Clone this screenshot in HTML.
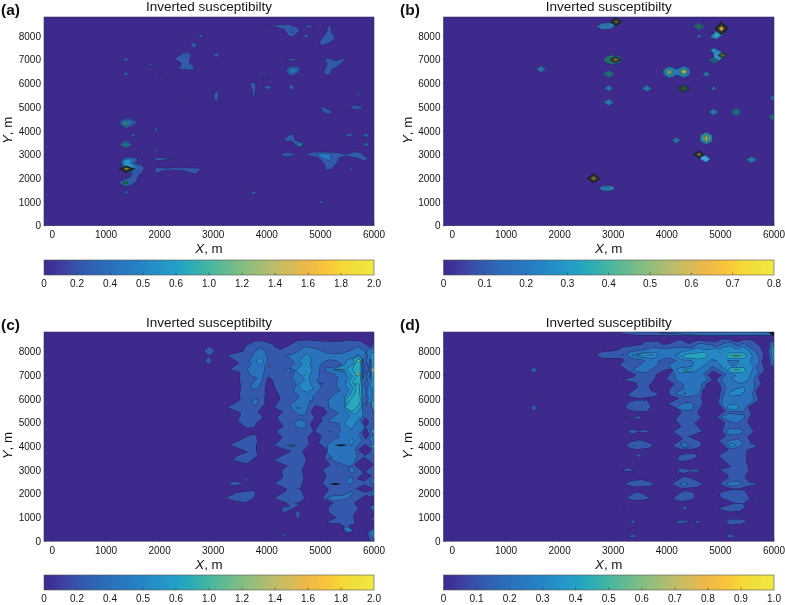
<!DOCTYPE html><html><head><meta charset="utf-8"><title>Inverted susceptibilty</title>
<style>html,body{margin:0;padding:0;background:#fff}body{width:785px;height:605px;overflow:hidden;position:relative}svg{position:absolute;left:0;top:0;display:block}text{font-family:"Liberation Sans",Arial,Helvetica,sans-serif;fill:#141414}.t{font-size:10px}.ti{font-size:13.5px}.ax{font-size:13.3px}.lb{font-size:15.5px;font-weight:bold;fill:#111}</style></head><body>
<svg width="785" height="605" viewBox="0 0 785 605">
<defs><linearGradient id="pg" x1="0" y1="0" x2="1" y2="0">
<stop offset="0.0000" stop-color="#3e298c"/>
<stop offset="0.0159" stop-color="#3e2f92"/>
<stop offset="0.0317" stop-color="#3e3599"/>
<stop offset="0.0476" stop-color="#3e3b9f"/>
<stop offset="0.0635" stop-color="#3c42a2"/>
<stop offset="0.0794" stop-color="#394aa5"/>
<stop offset="0.0952" stop-color="#3751a8"/>
<stop offset="0.1111" stop-color="#3457ab"/>
<stop offset="0.1270" stop-color="#325cae"/>
<stop offset="0.1429" stop-color="#2f61b2"/>
<stop offset="0.1587" stop-color="#2d65b4"/>
<stop offset="0.1746" stop-color="#2c69b7"/>
<stop offset="0.1905" stop-color="#2a6eb9"/>
<stop offset="0.2063" stop-color="#2971bc"/>
<stop offset="0.2222" stop-color="#2875bd"/>
<stop offset="0.2381" stop-color="#2778bf"/>
<stop offset="0.2540" stop-color="#277bc0"/>
<stop offset="0.2698" stop-color="#267fc2"/>
<stop offset="0.2857" stop-color="#2682c4"/>
<stop offset="0.3016" stop-color="#2585c5"/>
<stop offset="0.3175" stop-color="#258ac5"/>
<stop offset="0.3333" stop-color="#248ec5"/>
<stop offset="0.3492" stop-color="#2492c5"/>
<stop offset="0.3651" stop-color="#2497c6"/>
<stop offset="0.3810" stop-color="#239bc6"/>
<stop offset="0.3968" stop-color="#239fc6"/>
<stop offset="0.4127" stop-color="#26a3c1"/>
<stop offset="0.4286" stop-color="#29a7bc"/>
<stop offset="0.4444" stop-color="#2cabb6"/>
<stop offset="0.4603" stop-color="#32aeb0"/>
<stop offset="0.4762" stop-color="#3ab1aa"/>
<stop offset="0.4921" stop-color="#42b4a3"/>
<stop offset="0.5079" stop-color="#4bb79e"/>
<stop offset="0.5238" stop-color="#54b899"/>
<stop offset="0.5397" stop-color="#5eb994"/>
<stop offset="0.5556" stop-color="#67ba8f"/>
<stop offset="0.5714" stop-color="#71bc8b"/>
<stop offset="0.5873" stop-color="#7abd86"/>
<stop offset="0.6032" stop-color="#84be81"/>
<stop offset="0.6190" stop-color="#8dbe7d"/>
<stop offset="0.6349" stop-color="#97bd79"/>
<stop offset="0.6508" stop-color="#a0bd75"/>
<stop offset="0.6667" stop-color="#aabd71"/>
<stop offset="0.6825" stop-color="#b4bc6d"/>
<stop offset="0.6984" stop-color="#bdbc69"/>
<stop offset="0.7143" stop-color="#c5bc64"/>
<stop offset="0.7302" stop-color="#cdbb5e"/>
<stop offset="0.7460" stop-color="#d5bb59"/>
<stop offset="0.7619" stop-color="#ddba53"/>
<stop offset="0.7778" stop-color="#e5ba4e"/>
<stop offset="0.7937" stop-color="#edb948"/>
<stop offset="0.8095" stop-color="#f2bb44"/>
<stop offset="0.8254" stop-color="#f5be41"/>
<stop offset="0.8413" stop-color="#f8c13e"/>
<stop offset="0.8571" stop-color="#f9c63b"/>
<stop offset="0.8730" stop-color="#f8cc3a"/>
<stop offset="0.8889" stop-color="#f6d338"/>
<stop offset="0.9048" stop-color="#f5d837"/>
<stop offset="0.9206" stop-color="#f4db39"/>
<stop offset="0.9365" stop-color="#f3dd3b"/>
<stop offset="0.9524" stop-color="#f2e03c"/>
<stop offset="0.9683" stop-color="#f2e33e"/>
<stop offset="0.9841" stop-color="#f1e53f"/>
<stop offset="1.0000" stop-color="#f0e841"/>
</linearGradient></defs>
<g id="panel-a">
<rect x="44" y="17" width="330" height="208.7" fill="#3e298c"/>
<clipPath id="cla"><rect x="44" y="17" width="330" height="208.7"/></clipPath>
<g clip-path="url(#cla)">
<path d="M123.2 59.5 L126.0 57.4 L128.7 59.5 L126.0 61.6Z" fill="#3359ad" stroke="#1c1c3c" stroke-width="0.35" stroke-linejoin="round"/>
<path d="M123.2 73.7 L126.0 71.6 L128.7 73.7 L126.0 75.8Z" fill="#3359ad" stroke="#1c1c3c" stroke-width="0.35" stroke-linejoin="round"/>
<path d="M146.6 64.5 L150.1 63.4 L153.7 64.5 L150.1 65.5Z" fill="#3359ad" stroke="#1c1c3c" stroke-width="0.35" stroke-linejoin="round"/>
<path d="M158.5 73.7 L161.7 72.7 L164.8 73.7 L161.7 74.8Z" fill="#2f3f9a" stroke="#1c1c3c" stroke-width="0.35" stroke-linejoin="round"/>
<circle cx="163.4" cy="26.5" r="0.53" fill="#2a2a66" opacity="0.8"/>
<circle cx="170.7" cy="45.4" r="0.53" fill="#2a2a66" opacity="0.8"/>
<path d="M184.2 35.9 L185.9 34.9 L187.5 35.9 L185.9 37.0Z" fill="#3a4aa5" stroke="#1c1c3c" stroke-width="0.35" stroke-linejoin="round"/>
<path d="M197.8 35.9 L200.6 34.0 L203.3 35.9 L200.6 37.8Z" fill="#3359ad" stroke="#1c1c3c" stroke-width="0.35" stroke-linejoin="round"/>
<path d="M190.3 45.0 L193.6 42.0 L197.0 45.0 L193.6 47.9Z" fill="#3359ad" stroke="#1c1c3c" stroke-width="0.35" stroke-linejoin="round"/>
<path d="M174.3 59.0 L182.7 53.6 L186.9 51.7 L191.1 54.8 L189.0 62.2 L194.9 68.1 L191.1 70.0 L178.5 69.1 L181.7 63.7 L178.5 61.1Z" fill="#3359ad" stroke="#1c1c3c" stroke-width="0.35" stroke-linejoin="round"/>
<path d="M185.0 55.3 L186.3 53.4 L187.5 55.3 L186.3 57.1Z" fill="#2778bf" stroke="#1c1c3c" stroke-width="0.35" stroke-linejoin="round"/>
<path d="M184.2 97.3 L185.9 95.8 L187.5 97.3 L185.9 98.8Z" fill="#34489f" stroke="#1c1c3c" stroke-width="0.35" stroke-linejoin="round"/>
<circle cx="223.7" cy="21.2" r="0.53" fill="#2a2a66" opacity="0.8"/>
<path d="M296.9 17.8 L299.0 16.6 L301.1 17.8 L299.0 19.1Z" fill="#3359ad" stroke="#1c1c3c" stroke-width="0.35" stroke-linejoin="round"/>
<path d="M268.3 26.2 L278.4 25.0 L288.9 24.6 L297.3 27.5 L299.4 31.3 L292.0 37.0 L287.8 34.9 L284.7 29.6 L276.3 27.1Z" fill="#3359ad" stroke="#1c1c3c" stroke-width="0.35" stroke-linejoin="round"/>
<path d="M291.6 29.2 L292.9 32.6 L290.3 32.6Z" fill="#2778bf" stroke="#1c1c3c" stroke-width="0.35" stroke-linejoin="round"/>
<path d="M304.0 26.2 L308.8 25.0 L314.1 26.2 L308.8 27.9Z" fill="#3359ad" stroke="#1c1c3c" stroke-width="0.35" stroke-linejoin="round"/>
<path d="M303.2 35.9 L306.3 33.8 L309.5 35.9 L306.3 38.0Z" fill="#3359ad" stroke="#1c1c3c" stroke-width="0.35" stroke-linejoin="round"/>
<path d="M327.7 25.8 L330.9 25.8 L331.3 32.8 L335.1 37.0 L330.9 42.2 L320.4 45.4 L320.0 41.2 L324.6 34.9 L327.1 31.7Z" fill="#3359ad" stroke="#1c1c3c" stroke-width="0.35" stroke-linejoin="round"/>
<circle cx="253.6" cy="35.5" r="0.53" fill="#2a2a66" opacity="0.8"/>
<path d="M213.2 55.0 L216.4 52.7 L219.5 55.0 L216.4 57.4Z" fill="#3359ad" stroke="#1c1c3c" stroke-width="0.35" stroke-linejoin="round"/>
<circle cx="253.8" cy="54.8" r="0.53" fill="#2a2a66" opacity="0.8"/>
<circle cx="284.0" cy="50.0" r="0.53" fill="#2a2a66" opacity="0.8"/>
<path d="M285.1 59.7 L291.6 58.4 L298.5 59.7 L291.6 61.1Z" fill="#3359ad" stroke="#1c1c3c" stroke-width="0.35" stroke-linejoin="round"/>
<path d="M286.3 69.5 L289.9 66.4 L296.2 65.8 L300.8 68.5 L297.3 73.3 L292.0 76.3 L287.8 73.7Z" fill="#3359ad" stroke="#1c1c3c" stroke-width="0.35" stroke-linejoin="round"/>
<path d="M288.9 69.5 L292.6 67.2 L298.1 68.7 L293.1 74.6 L289.9 72.9Z" fill="#2778bf" stroke="#1c1c3c" stroke-width="0.35" stroke-linejoin="round"/>
<path d="M291.0 69.5 L294.8 68.9 L292.6 73.3Z" fill="#2495c6" stroke="#1c1c3c" stroke-width="0.35" stroke-linejoin="round"/>
<path d="M324.6 59.0 L329.8 58.6 L335.1 61.1 L343.5 58.4 L344.6 60.1 L337.2 66.4 L332.0 69.5 L329.8 74.2 L324.6 74.8 L324.2 70.6 L327.7 64.3Z" fill="#3359ad" stroke="#1c1c3c" stroke-width="0.35" stroke-linejoin="round"/>
<circle cx="357.6" cy="55.0" r="0.53" fill="#2a2a66" opacity="0.8"/>
<circle cx="351.3" cy="64.5" r="0.53" fill="#2a2a66" opacity="0.8"/>
<circle cx="261.5" cy="70.0" r="0.53" fill="#2a2a66" opacity="0.8"/>
<path d="M262.0 78.6 L266.2 77.7 L270.4 78.8 L266.2 79.8Z" fill="#2f3f9a" stroke="#1c1c3c" stroke-width="0.35" stroke-linejoin="round"/>
<path d="M248.9 83.2 L255.2 82.6 L255.7 87.4 L254.2 96.9 L252.7 96.9 L252.1 88.5Z" fill="#3359ad" stroke="#1c1c3c" stroke-width="0.35" stroke-linejoin="round"/>
<path d="M263.2 87.4 L267.8 85.3 L272.5 87.4 L267.8 89.5Z" fill="#3359ad" stroke="#1c1c3c" stroke-width="0.35" stroke-linejoin="round"/>
<path d="M291.4 83.2 L294.3 87.4 L291.4 89.9 L288.4 87.4Z" fill="#3359ad" stroke="#1c1c3c" stroke-width="0.35" stroke-linejoin="round"/>
<circle cx="231.5" cy="82.8" r="0.53" fill="#2a2a66" opacity="0.8"/>
<path d="M216.4 90.6 L218.5 93.7 L217.4 100.0 L215.3 101.1 L213.6 95.8Z" fill="#3359ad" stroke="#1c1c3c" stroke-width="0.35" stroke-linejoin="round"/>
<path d="M219.1 102.3 L221.6 101.7 L224.6 102.5 L221.6 103.2Z" fill="#2f3f9a" stroke="#1c1c3c" stroke-width="0.35" stroke-linejoin="round"/>
<circle cx="321.4" cy="88.0" r="0.53" fill="#2a2a66" opacity="0.8"/>
<path d="M358.6 91.6 L359.9 94.3 L358.6 97.3 L357.6 94.3Z" fill="#3359ad" stroke="#1c1c3c" stroke-width="0.35" stroke-linejoin="round"/>
<path d="M320.4 106.3 L324.6 107.8 L330.9 110.5 L332.0 113.3 L326.7 113.7 L322.5 111.2Z" fill="#3359ad" stroke="#1c1c3c" stroke-width="0.35" stroke-linejoin="round"/>
<path d="M350.2 106.3 L357.2 104.9 L362.4 106.3 L361.4 109.1 L356.1 109.5 L350.9 108.4Z" fill="#3359ad" stroke="#1c1c3c" stroke-width="0.35" stroke-linejoin="round"/>
<path d="M356.5 107.0 L358.6 106.1 L360.7 107.0 L358.6 107.8Z" fill="#2778bf" stroke="#1c1c3c" stroke-width="0.35" stroke-linejoin="round"/>
<circle cx="291.6" cy="111.6" r="0.53" fill="#2a2a66" opacity="0.8"/>
<circle cx="231.5" cy="115.8" r="0.53" fill="#2a2a66" opacity="0.8"/>
<circle cx="344.6" cy="111.6" r="0.53" fill="#2a2a66" opacity="0.8"/>
<path d="M119.2 123.2 L122.3 119.5 L128.6 118.1 L135.0 120.5 L136.8 122.3 L132.3 125.9 L126.8 128.6 L122.3 126.8Z" fill="#3359ad" stroke="#1c1c3c" stroke-width="0.35" stroke-linejoin="round"/>
<path d="M121.0 123.2 L123.2 120.5 L128.6 119.5 L133.2 121.4 L130.5 125.0 L126.8 127.2 L123.2 125.9Z" fill="#2778bf" stroke="#1c1c3c" stroke-width="0.35" stroke-linejoin="round"/>
<path d="M122.8 123.2 L124.6 121.4 L128.6 121.0 L130.8 122.3 L128.6 124.6 L126.5 125.9 L124.3 125.0Z" fill="#2a8aa8" stroke="#1c1c3c" stroke-width="0.35" stroke-linejoin="round"/>
<path d="M124.6 123.2 L125.9 122.1 L128.3 122.3 L127.5 124.3 L126.1 124.8Z" fill="#3a9a88" stroke="#1c1c3c" stroke-width="0.35" stroke-linejoin="round"/>
<path d="M125.7 123.2 L126.8 122.6 L127.5 123.5 L126.5 124.3Z" fill="#b8c050" stroke="#1c1c3c" stroke-width="0.35" stroke-linejoin="round"/>
<path d="M130.5 135.0 L133.2 133.2 L135.9 135.0 L133.2 136.8Z" fill="#3359ad" stroke="#1c1c3c" stroke-width="0.35" stroke-linejoin="round"/>
<path d="M119.5 144.5 L125.9 140.3 L132.3 144.5 L125.9 148.6Z" fill="#2f6fb0" stroke="#1c1c3c" stroke-width="0.35" stroke-linejoin="round"/>
<path d="M121.7 144.5 L125.9 141.7 L130.2 144.5 L125.9 147.2Z" fill="#2a7a98" stroke="#1c1c3c" stroke-width="0.35" stroke-linejoin="round"/>
<path d="M123.8 144.5 L125.9 143.1 L128.0 144.5 L125.9 145.8Z" fill="#2a8a80" stroke="#1c1c3c" stroke-width="0.35" stroke-linejoin="round"/>
<path d="M154.1 129.5 L155.9 127.4 L157.7 129.5 L155.9 131.7Z" fill="#3359ad" stroke="#1c1c3c" stroke-width="0.35" stroke-linejoin="round"/>
<circle cx="163.2" cy="125.5" r="0.45" fill="#2a2a66" opacity="0.8"/>
<path d="M154.1 149.9 L155.9 148.3 L157.7 149.9 L155.9 151.5Z" fill="#3359ad" stroke="#1c1c3c" stroke-width="0.35" stroke-linejoin="round"/>
<path d="M152.6 159.2 L157.7 157.5 L171.4 158.3 L166.8 159.5 L157.7 160.6Z" fill="#3359ad" stroke="#1c1c3c" stroke-width="0.35" stroke-linejoin="round"/>
<path d="M155.0 168.6 L157.7 167.7 L166.8 168.3 L177.7 167.7 L201.4 168.3 L195.0 174.1 L185.0 170.8 L172.3 169.9 L163.2 170.8 L155.9 173.2Z" fill="#3359ad" stroke="#1c1c3c" stroke-width="0.35" stroke-linejoin="round"/>
<path d="M120.5 162.3 L123.2 158.6 L127.7 156.8 L135.0 157.4 L137.7 159.5 L135.0 163.2 L141.4 165.0 L144.1 167.7 L142.3 172.3 L138.6 175.0 L135.9 181.4 L132.3 185.0 L125.9 186.3 L119.5 182.8 L125.0 179.5 L130.5 176.8 L132.3 172.6 L126.8 173.2 L119.5 168.6 L122.3 165.9Z" fill="#3359ad" stroke="#1c1c3c" stroke-width="0.35" stroke-linejoin="round"/>
<path d="M121.7 162.3 L124.1 159.2 L127.7 157.9 L133.7 158.5 L135.0 159.9 L132.3 162.8 L136.8 165.9 L138.6 168.6 L135.0 171.4 L126.8 172.6 L120.5 168.6 L123.2 165.9Z" fill="#2778bf" stroke="#1c1c3c" stroke-width="0.35" stroke-linejoin="round"/>
<path d="M123.2 161.7 L125.0 159.5 L128.3 159.0 L131.4 159.5 L130.1 162.3 L134.1 166.8 L135.0 169.0 L126.8 171.9 L121.4 168.6 L124.1 165.4Z" fill="#2495c6" stroke="#1c1c3c" stroke-width="0.35" stroke-linejoin="round"/>
<path d="M119.5 168.6 L125.9 165.7 L135.5 169.0 L125.9 172.8Z" fill="#1a2418" stroke="#1c1c3c" stroke-width="0.35" stroke-linejoin="round"/>
<path d="M122.3 168.6 L125.9 167.0 L132.3 169.0 L125.9 171.2Z" fill="#3a4a20" stroke="#1c1c3c" stroke-width="0.35" stroke-linejoin="round"/>
<path d="M123.9 168.6 L126.1 167.7 L130.1 168.8 L126.1 170.1Z" fill="#c08a2a" stroke="#1c1c3c" stroke-width="0.35" stroke-linejoin="round"/>
<path d="M119.5 182.8 L125.4 179.5 L131.5 182.8 L125.4 186.3Z" fill="#2495c6" stroke="#1c1c3c" stroke-width="0.35" stroke-linejoin="round"/>
<path d="M121.7 182.8 L125.4 180.8 L129.4 182.8 L125.4 185.0Z" fill="#1f5a50" stroke="#1c1c3c" stroke-width="0.35" stroke-linejoin="round"/>
<path d="M123.5 182.8 L125.4 181.7 L127.5 182.8 L125.4 183.9Z" fill="#2c7a52" stroke="#1c1c3c" stroke-width="0.35" stroke-linejoin="round"/>
<path d="M123.7 192.3 L126.5 190.5 L129.2 192.3 L126.5 194.1Z" fill="#3359ad" stroke="#1c1c3c" stroke-width="0.35" stroke-linejoin="round"/>
<circle cx="125.9" cy="201.7" r="0.45" fill="#2a2a66" opacity="0.8"/>
<circle cx="193.5" cy="182.8" r="0.45" fill="#2a2a66" opacity="0.8"/>
<circle cx="246.4" cy="130.5" r="0.53" fill="#2a2a66" opacity="0.8"/>
<circle cx="283.6" cy="130.5" r="0.53" fill="#2a2a66" opacity="0.8"/>
<circle cx="299.0" cy="130.5" r="0.53" fill="#2a2a66" opacity="0.8"/>
<path d="M283.6 139.5 L289.9 134.7 L294.1 134.7 L294.8 139.9 L299.4 141.4 L303.6 143.1 L301.5 147.3 L296.2 146.2 L292.0 141.0 L286.8 141.4Z" fill="#3359ad" stroke="#1c1c3c" stroke-width="0.35" stroke-linejoin="round"/>
<path d="M296.6 144.5 L299.8 142.0 L302.9 144.5 L299.8 147.1Z" fill="#2778bf" stroke="#1c1c3c" stroke-width="0.35" stroke-linejoin="round"/>
<path d="M298.2 144.5 L299.8 143.3 L301.4 144.5 L299.8 145.8Z" fill="#2495c6" stroke="#1c1c3c" stroke-width="0.35" stroke-linejoin="round"/>
<path d="M280.5 154.6 L285.7 152.5 L293.1 152.9 L294.8 155.0 L289.9 156.7 L283.6 156.3Z" fill="#3359ad" stroke="#1c1c3c" stroke-width="0.35" stroke-linejoin="round"/>
<path d="M287.6 154.4 L289.9 153.6 L292.2 154.4 L289.9 155.3Z" fill="#2778bf" stroke="#1c1c3c" stroke-width="0.35" stroke-linejoin="round"/>
<path d="M305.3 154.2 L314.1 152.1 L326.7 151.9 L339.3 152.9 L345.6 154.6 L354.0 151.9 L360.3 152.5 L367.7 158.8 L365.6 160.9 L356.1 157.8 L345.6 155.7 L339.3 157.8 L336.2 164.1 L330.9 169.3 L325.6 169.8 L324.2 163.0 L318.3 157.8 L309.9 155.7Z" fill="#3359ad" stroke="#1c1c3c" stroke-width="0.35" stroke-linejoin="round"/>
<path d="M316.2 154.6 L322.5 152.9 L330.9 154.2 L329.8 160.9 L323.5 158.8Z" fill="#2778bf" stroke="#1c1c3c" stroke-width="0.35" stroke-linejoin="round"/>
<path d="M345.2 135.3 L350.9 132.6 L353.0 136.1 L347.7 136.8Z" fill="#3359ad" stroke="#1c1c3c" stroke-width="0.35" stroke-linejoin="round"/>
<path d="M362.6 135.3 L366.2 132.6 L369.8 135.3 L366.2 138.0Z" fill="#3359ad" stroke="#1c1c3c" stroke-width="0.35" stroke-linejoin="round"/>
<path d="M363.8 135.3 L366.2 133.5 L368.6 135.3 L366.2 137.1Z" fill="#2778bf" stroke="#1c1c3c" stroke-width="0.35" stroke-linejoin="round"/>
<path d="M365.0 135.3 L366.2 134.4 L367.4 135.3 L366.2 136.2Z" fill="#2495c6" stroke="#1c1c3c" stroke-width="0.35" stroke-linejoin="round"/>
<path d="M362.8 144.5 L366.2 141.8 L369.6 144.5 L366.2 147.3Z" fill="#3359ad" stroke="#1c1c3c" stroke-width="0.35" stroke-linejoin="round"/>
<path d="M364.0 144.5 L366.2 142.7 L368.5 144.5 L366.2 146.4Z" fill="#2778bf" stroke="#1c1c3c" stroke-width="0.35" stroke-linejoin="round"/>
<path d="M365.1 144.5 L366.2 143.6 L367.3 144.5 L366.2 145.5Z" fill="#2495c6" stroke="#1c1c3c" stroke-width="0.35" stroke-linejoin="round"/>
<path d="M349.4 168.5 L351.3 167.0 L353.2 168.5 L351.3 170.0Z" fill="#3359ad" stroke="#1c1c3c" stroke-width="0.35" stroke-linejoin="round"/>
<circle cx="366.2" cy="168.9" r="0.53" fill="#2a2a66" opacity="0.8"/>
<path d="M250.4 192.7 L253.6 190.8 L256.7 192.7 L253.6 194.6Z" fill="#3359ad" stroke="#1c1c3c" stroke-width="0.35" stroke-linejoin="round"/>
<circle cx="216.4" cy="197.1" r="0.53" fill="#2a2a66" opacity="0.8"/>
<path d="M318.3 202.1 L321.0 200.7 L323.8 202.1 L321.0 203.6Z" fill="#3359ad" stroke="#1c1c3c" stroke-width="0.35" stroke-linejoin="round"/>
</g>
<rect x="44" y="17" width="330" height="208.7" fill="none" stroke="#3a3560" stroke-width="0.6"/>
<line x1="52.40" x2="52.40" y1="225.7" y2="223.2" stroke="#2a2a50" stroke-width="0.5"/>
<text class="t" x="52.40" y="238.10" text-anchor="middle">0</text>
<line x1="106.00" x2="106.00" y1="225.7" y2="223.2" stroke="#2a2a50" stroke-width="0.5"/>
<text class="t" x="106.00" y="238.10" text-anchor="middle">1000</text>
<line x1="159.60" x2="159.60" y1="225.7" y2="223.2" stroke="#2a2a50" stroke-width="0.5"/>
<text class="t" x="159.60" y="238.10" text-anchor="middle">2000</text>
<line x1="213.20" x2="213.20" y1="225.7" y2="223.2" stroke="#2a2a50" stroke-width="0.5"/>
<text class="t" x="213.20" y="238.10" text-anchor="middle">3000</text>
<line x1="266.80" x2="266.80" y1="225.7" y2="223.2" stroke="#2a2a50" stroke-width="0.5"/>
<text class="t" x="266.80" y="238.10" text-anchor="middle">4000</text>
<line x1="320.40" x2="320.40" y1="225.7" y2="223.2" stroke="#2a2a50" stroke-width="0.5"/>
<text class="t" x="320.40" y="238.10" text-anchor="middle">5000</text>
<line x1="374.00" x2="374.00" y1="225.7" y2="223.2" stroke="#2a2a50" stroke-width="0.5"/>
<text class="t" x="374.00" y="238.10" text-anchor="middle">6000</text>
<line x1="44" x2="46.5" y1="225.70" y2="225.70" stroke="#2a2a50" stroke-width="0.5"/>
<text class="t" x="41.00" y="229.30" text-anchor="end">0</text>
<line x1="44" x2="46.5" y1="202.00" y2="202.00" stroke="#2a2a50" stroke-width="0.5"/>
<text class="t" x="41.00" y="205.60" text-anchor="end">1000</text>
<line x1="44" x2="46.5" y1="178.30" y2="178.30" stroke="#2a2a50" stroke-width="0.5"/>
<text class="t" x="41.00" y="181.90" text-anchor="end">2000</text>
<line x1="44" x2="46.5" y1="154.60" y2="154.60" stroke="#2a2a50" stroke-width="0.5"/>
<text class="t" x="41.00" y="158.20" text-anchor="end">3000</text>
<line x1="44" x2="46.5" y1="130.90" y2="130.90" stroke="#2a2a50" stroke-width="0.5"/>
<text class="t" x="41.00" y="134.50" text-anchor="end">4000</text>
<line x1="44" x2="46.5" y1="107.20" y2="107.20" stroke="#2a2a50" stroke-width="0.5"/>
<text class="t" x="41.00" y="110.80" text-anchor="end">5000</text>
<line x1="44" x2="46.5" y1="83.50" y2="83.50" stroke="#2a2a50" stroke-width="0.5"/>
<text class="t" x="41.00" y="87.10" text-anchor="end">6000</text>
<line x1="44" x2="46.5" y1="59.80" y2="59.80" stroke="#2a2a50" stroke-width="0.5"/>
<text class="t" x="41.00" y="63.40" text-anchor="end">7000</text>
<line x1="44" x2="46.5" y1="36.10" y2="36.10" stroke="#2a2a50" stroke-width="0.5"/>
<text class="t" x="41.00" y="39.70" text-anchor="end">8000</text>
<text class="ti" x="209.00" y="11.20" text-anchor="middle">Inverted susceptibilty</text>
<text class="ax" x="209.00" y="253.20" text-anchor="middle"><tspan font-style="italic">X</tspan>, m</text>
<text class="ax" transform="translate(12.20 130.35) rotate(-90)" text-anchor="middle"><tspan font-style="italic">Y</tspan>, m</text>
<text class="lb" x="1" y="14.9">(a)</text>
<rect x="44" y="260" width="330" height="15" fill="url(#pg)" stroke="#555" stroke-width="0.6"/>
<text class="t" x="44.00" y="286.60" text-anchor="middle">0</text>
<line x1="77.00" x2="77.00" y1="275" y2="272.5" stroke="#333" stroke-width="0.5"/>
<text class="t" x="77.00" y="286.60" text-anchor="middle">0.2</text>
<line x1="110.00" x2="110.00" y1="275" y2="272.5" stroke="#333" stroke-width="0.5"/>
<text class="t" x="110.00" y="286.60" text-anchor="middle">0.4</text>
<line x1="143.00" x2="143.00" y1="275" y2="272.5" stroke="#333" stroke-width="0.5"/>
<text class="t" x="143.00" y="286.60" text-anchor="middle">0.5</text>
<line x1="176.00" x2="176.00" y1="275" y2="272.5" stroke="#333" stroke-width="0.5"/>
<text class="t" x="176.00" y="286.60" text-anchor="middle">0.6</text>
<line x1="209.00" x2="209.00" y1="275" y2="272.5" stroke="#333" stroke-width="0.5"/>
<text class="t" x="209.00" y="286.60" text-anchor="middle">1.0</text>
<line x1="242.00" x2="242.00" y1="275" y2="272.5" stroke="#333" stroke-width="0.5"/>
<text class="t" x="242.00" y="286.60" text-anchor="middle">1.2</text>
<line x1="275.00" x2="275.00" y1="275" y2="272.5" stroke="#333" stroke-width="0.5"/>
<text class="t" x="275.00" y="286.60" text-anchor="middle">1.4</text>
<line x1="308.00" x2="308.00" y1="275" y2="272.5" stroke="#333" stroke-width="0.5"/>
<text class="t" x="308.00" y="286.60" text-anchor="middle">1.6</text>
<line x1="341.00" x2="341.00" y1="275" y2="272.5" stroke="#333" stroke-width="0.5"/>
<text class="t" x="341.00" y="286.60" text-anchor="middle">1.8</text>
<text class="t" x="374.00" y="286.60" text-anchor="middle">2.0</text>
</g>
<g id="panel-b">
<rect x="443.5" y="17" width="330.5" height="208.7" fill="#3e298c"/>
<clipPath id="clb"><rect x="443.5" y="17" width="330.5" height="208.7"/></clipPath>
<g clip-path="url(#clb)">
<path d="M709.9 37.0 L716.2 31.3 L724.2 33.8 L716.6 39.3Z" fill="#2a9ac8" stroke="#1c1c3c" stroke-width="0.35" stroke-linejoin="round"/>
<path d="M712.4 36.3 L716.6 33.0 L721.4 34.2 L716.2 37.6Z" fill="#35a8cc" stroke="#1c1c3c" stroke-width="0.35" stroke-linejoin="round"/>
<path d="M714.5 28.6 L721.4 22.0 L728.4 28.6 L721.4 35.1Z" fill="#18221c" stroke="#1c1c3c" stroke-width="0.35" stroke-linejoin="round"/>
<path d="M716.2 28.6 L721.4 23.7 L726.6 28.6 L721.4 33.4Z" fill="#2f4424" stroke="#1c1c3c" stroke-width="0.35" stroke-linejoin="round"/>
<path d="M718.0 28.6 L721.4 25.3 L724.9 28.6 L721.4 31.8Z" fill="#6a6a2a" stroke="#1c1c3c" stroke-width="0.35" stroke-linejoin="round"/>
<path d="M719.7 28.6 L721.4 26.9 L723.2 28.6 L721.4 30.2Z" fill="#c88a2c" stroke="#1c1c3c" stroke-width="0.35" stroke-linejoin="round"/>
<path d="M719.1 28.6 L721.4 26.2 L723.8 28.6 L721.4 31.3Z" fill="#d8a030" stroke="#1c1c3c" stroke-width="0.35" stroke-linejoin="round"/>
<path d="M692.9 26.5 L699.0 22.5 L705.0 26.5 L699.0 30.5Z" fill="#2a7fa8" stroke="#1c1c3c" stroke-width="0.35" stroke-linejoin="round"/>
<path d="M694.4 26.5 L699.0 23.5 L703.5 26.5 L699.0 29.5Z" fill="#237a86" stroke="#1c1c3c" stroke-width="0.35" stroke-linejoin="round"/>
<path d="M695.9 26.5 L699.0 24.5 L702.0 26.5 L699.0 28.5Z" fill="#2a8470" stroke="#1c1c3c" stroke-width="0.35" stroke-linejoin="round"/>
<path d="M697.4 26.5 L699.0 25.5 L700.5 26.5 L699.0 27.5Z" fill="#8a7a30" stroke="#1c1c3c" stroke-width="0.35" stroke-linejoin="round"/>
<path d="M696.4 37.2 L699.0 34.7 L701.5 37.2Z" fill="#2a9ac8" stroke="#1c1c3c" stroke-width="0.35" stroke-linejoin="round"/>
<path d="M709.9 50.2 L714.1 47.5 L722.5 52.7 L727.7 55.3 L722.5 58.6 L718.3 61.1 L714.1 63.7 L708.2 60.1 L714.1 56.9 L713.0 53.1Z" fill="#2e8cc6" stroke="#1c1c3c" stroke-width="0.35" stroke-linejoin="round"/>
<path d="M717.7 55.3 L722.5 51.9 L727.3 55.3 L722.5 58.6Z" fill="#1d4a48" stroke="#1c1c3c" stroke-width="0.35" stroke-linejoin="round"/>
<path d="M719.3 55.3 L722.5 53.0 L725.7 55.3 L722.5 57.5Z" fill="#3a5a30" stroke="#1c1c3c" stroke-width="0.35" stroke-linejoin="round"/>
<path d="M720.9 55.3 L722.5 54.1 L724.1 55.3 L722.5 56.4Z" fill="#9a7a2c" stroke="#1c1c3c" stroke-width="0.35" stroke-linejoin="round"/>
<path d="M709.0 60.3 L713.7 57.4 L718.3 60.3 L713.7 63.2Z" fill="#2a7fa8" stroke="#1c1c3c" stroke-width="0.35" stroke-linejoin="round"/>
<path d="M710.6 60.3 L713.7 58.3 L716.7 60.3 L713.7 62.3Z" fill="#237a86" stroke="#1c1c3c" stroke-width="0.35" stroke-linejoin="round"/>
<path d="M712.1 60.3 L713.7 59.3 L715.2 60.3 L713.7 61.3Z" fill="#2a8470" stroke="#1c1c3c" stroke-width="0.35" stroke-linejoin="round"/>
<path d="M710.9 50.6 L714.1 48.5 L717.2 50.6 L714.1 52.7Z" fill="#2a9ac8" stroke="#1c1c3c" stroke-width="0.35" stroke-linejoin="round"/>
<path d="M662.6 72.1 L664.7 68.5 L668.9 66.4 L673.1 67.4 L676.7 69.5 L683.6 65.8 L689.9 69.1 L689.9 74.8 L683.6 77.9 L676.7 74.8 L673.1 76.9 L668.9 77.9 L664.7 75.8Z" fill="#2a7fb0" stroke="#1c1c3c" stroke-width="0.35" stroke-linejoin="round"/>
<path d="M664.3 72.1 L666.2 69.1 L669.5 67.9 L673.1 69.5 L674.2 72.1 L673.1 74.8 L669.5 76.5 L666.2 75.2Z" fill="#2a9ac8" stroke="#1c1c3c" stroke-width="0.35" stroke-linejoin="round"/>
<path d="M666.0 72.1 L667.4 70.0 L669.7 69.3 L671.8 70.6 L672.5 72.1 L671.6 74.0 L669.5 75.0 L667.4 74.2Z" fill="#3aa6a0" stroke="#1c1c3c" stroke-width="0.35" stroke-linejoin="round"/>
<path d="M667.6 72.1 L668.7 70.8 L669.9 70.6 L671.0 72.1 L669.9 73.7 L668.7 73.5Z" fill="#c8b040" stroke="#1c1c3c" stroke-width="0.35" stroke-linejoin="round"/>
<path d="M677.9 71.6 L683.6 67.0 L689.3 71.6 L683.6 76.7Z" fill="#2a9ac8" stroke="#1c1c3c" stroke-width="0.35" stroke-linejoin="round"/>
<path d="M679.6 71.6 L683.6 68.5 L688.0 71.6 L683.6 75.2Z" fill="#3aa6a0" stroke="#1c1c3c" stroke-width="0.35" stroke-linejoin="round"/>
<path d="M681.5 71.6 L683.8 69.5 L686.3 71.6 L683.8 74.2Z" fill="#d8b038" stroke="#1c1c3c" stroke-width="0.35" stroke-linejoin="round"/>
<path d="M702.3 74.2 L706.3 71.4 L710.3 74.2 L706.3 76.9Z" fill="#2e86c4" stroke="#1c1c3c" stroke-width="0.35" stroke-linejoin="round"/>
<path d="M703.6 74.2 L706.3 72.3 L709.0 74.2 L706.3 76.0Z" fill="#2a9ac8" stroke="#1c1c3c" stroke-width="0.35" stroke-linejoin="round"/>
<path d="M705.0 74.2 L706.3 73.3 L707.6 74.2 L706.3 75.1Z" fill="#2e86c4" stroke="#1c1c3c" stroke-width="0.35" stroke-linejoin="round"/>
<path d="M641.8 88.5 L646.8 85.1 L651.9 88.5 L646.8 91.8Z" fill="#2e86c4" stroke="#1c1c3c" stroke-width="0.35" stroke-linejoin="round"/>
<path d="M643.5 88.5 L646.8 86.2 L650.2 88.5 L646.8 90.7Z" fill="#2a9ac8" stroke="#1c1c3c" stroke-width="0.35" stroke-linejoin="round"/>
<path d="M645.1 88.5 L646.8 87.3 L648.5 88.5 L646.8 89.6Z" fill="#2e86c4" stroke="#1c1c3c" stroke-width="0.35" stroke-linejoin="round"/>
<path d="M677.1 88.5 L683.6 84.5 L690.1 88.5 L683.6 92.5Z" fill="#1d4a40" stroke="#1c1c3c" stroke-width="0.35" stroke-linejoin="round"/>
<path d="M679.3 88.5 L683.6 85.8 L688.0 88.5 L683.6 91.1Z" fill="#2a5a38" stroke="#1c1c3c" stroke-width="0.35" stroke-linejoin="round"/>
<path d="M681.4 88.5 L683.6 87.1 L685.8 88.5 L683.6 89.8Z" fill="#5a5a2c" stroke="#1c1c3c" stroke-width="0.35" stroke-linejoin="round"/>
<path d="M710.7 88.5 L713.7 86.4 L716.6 88.5 L713.7 90.6Z" fill="#2e86c4" stroke="#1c1c3c" stroke-width="0.35" stroke-linejoin="round"/>
<path d="M711.7 88.5 L713.7 87.1 L715.6 88.5 L713.7 89.9Z" fill="#2a9ac8" stroke="#1c1c3c" stroke-width="0.35" stroke-linejoin="round"/>
<path d="M712.7 88.5 L713.7 87.8 L714.6 88.5 L713.7 89.2Z" fill="#2e86c4" stroke="#1c1c3c" stroke-width="0.35" stroke-linejoin="round"/>
<path d="M769.6 97.9 L772.9 95.2 L776.3 97.9 L772.9 100.6Z" fill="#2e86c4" stroke="#1c1c3c" stroke-width="0.35" stroke-linejoin="round"/>
<path d="M770.7 97.9 L772.9 96.1 L775.2 97.9 L772.9 99.7Z" fill="#2a9ac8" stroke="#1c1c3c" stroke-width="0.35" stroke-linejoin="round"/>
<path d="M771.8 97.9 L772.9 97.0 L774.1 97.9 L772.9 98.8Z" fill="#2e86c4" stroke="#1c1c3c" stroke-width="0.35" stroke-linejoin="round"/>
<path d="M708.8 112.0 L713.7 108.4 L718.5 112.0 L713.7 115.6Z" fill="#2e86c4" stroke="#1c1c3c" stroke-width="0.35" stroke-linejoin="round"/>
<path d="M710.4 112.0 L713.7 109.6 L716.9 112.0 L713.7 114.4Z" fill="#2a9ac8" stroke="#1c1c3c" stroke-width="0.35" stroke-linejoin="round"/>
<path d="M712.1 112.0 L713.7 110.8 L715.3 112.0 L713.7 113.2Z" fill="#2e86c4" stroke="#1c1c3c" stroke-width="0.35" stroke-linejoin="round"/>
<path d="M730.7 112.0 L736.2 108.0 L741.6 112.0 L736.2 116.0Z" fill="#2a7fa8" stroke="#1c1c3c" stroke-width="0.35" stroke-linejoin="round"/>
<path d="M732.5 112.0 L736.2 109.3 L739.8 112.0 L736.2 114.7Z" fill="#237a86" stroke="#1c1c3c" stroke-width="0.35" stroke-linejoin="round"/>
<path d="M734.3 112.0 L736.2 110.7 L738.0 112.0 L736.2 113.3Z" fill="#2a8470" stroke="#1c1c3c" stroke-width="0.35" stroke-linejoin="round"/>
<path d="M768.3 116.8 L772.5 113.5 L776.7 116.8 L772.5 120.2Z" fill="#2a7fa8" stroke="#1c1c3c" stroke-width="0.35" stroke-linejoin="round"/>
<path d="M769.7 116.8 L772.5 114.6 L775.3 116.8 L772.5 119.1Z" fill="#237a86" stroke="#1c1c3c" stroke-width="0.35" stroke-linejoin="round"/>
<path d="M771.1 116.8 L772.5 115.7 L773.9 116.8 L772.5 118.0Z" fill="#2a8470" stroke="#1c1c3c" stroke-width="0.35" stroke-linejoin="round"/>
<path d="M536.3 69.1 L541.1 65.8 L545.9 69.1 L541.1 72.5Z" fill="#2e86c4" stroke="#1c1c3c" stroke-width="0.35" stroke-linejoin="round"/>
<path d="M537.9 69.1 L541.1 66.9 L544.3 69.1 L541.1 71.4Z" fill="#2a9ac8" stroke="#1c1c3c" stroke-width="0.35" stroke-linejoin="round"/>
<path d="M539.5 69.1 L541.1 68.0 L542.7 69.1 L541.1 70.2Z" fill="#2e86c4" stroke="#1c1c3c" stroke-width="0.35" stroke-linejoin="round"/>
<circle cx="570.7" cy="107.4" r="0.53" fill="#2a2a66" opacity="0.8"/>
<path d="M596.7 26.5 L601.8 23.5 L611.3 22.2 L616.1 24.7 L610.4 29.0 L601.8 29.4Z" fill="#2e86c4" stroke="#1c1c3c" stroke-width="0.35" stroke-linejoin="round"/>
<path d="M598.9 26.5 L602.7 24.6 L611.3 23.5 L613.9 24.9 L609.6 27.8 L602.3 28.2Z" fill="#35a0d0" stroke="#1c1c3c" stroke-width="0.35" stroke-linejoin="round"/>
<path d="M601.3 26.3 L604.4 25.3 L611.3 24.7 L609.2 26.8 L603.5 27.2Z" fill="#2e86c4" stroke="#1c1c3c" stroke-width="0.35" stroke-linejoin="round"/>
<path d="M609.9 21.8 L616.1 17.3 L622.3 21.8 L616.1 26.3Z" fill="#15302a" stroke="#1c1c3c" stroke-width="0.35" stroke-linejoin="round"/>
<path d="M611.5 21.8 L616.1 18.5 L620.8 21.8 L616.1 25.2Z" fill="#1f3a28" stroke="#1c1c3c" stroke-width="0.35" stroke-linejoin="round"/>
<path d="M613.0 21.8 L616.1 19.6 L619.2 21.8 L616.1 24.1Z" fill="#4a4a28" stroke="#1c1c3c" stroke-width="0.35" stroke-linejoin="round"/>
<path d="M614.6 21.8 L616.1 20.7 L617.7 21.8 L616.1 22.9Z" fill="#b07a2c" stroke="#1c1c3c" stroke-width="0.35" stroke-linejoin="round"/>
<path d="M603.0 59.7 L607.0 56.2 L613.0 55.0 L619.0 56.2 L623.0 59.7 L619.0 63.1 L613.0 64.5 L607.0 63.1Z" fill="#237a86" stroke="#1c1c3c" stroke-width="0.35" stroke-linejoin="round"/>
<path d="M605.3 59.7 L608.7 57.6 L613.9 56.6 L619.0 57.9 L621.3 59.7 L618.5 61.7 L613.4 62.9 L608.7 61.7Z" fill="#2a7a60" stroke="#1c1c3c" stroke-width="0.35" stroke-linejoin="round"/>
<path d="M609.2 59.7 L615.6 56.2 L622.0 59.7 L615.6 63.1Z" fill="#1d3f38" stroke="#1c1c3c" stroke-width="0.35" stroke-linejoin="round"/>
<path d="M611.3 59.7 L615.6 57.6 L619.9 59.7 L615.6 61.7Z" fill="#4a5a30" stroke="#1c1c3c" stroke-width="0.35" stroke-linejoin="round"/>
<path d="M613.0 59.7 L615.8 58.6 L618.5 59.7 L615.8 60.7Z" fill="#c0842c" stroke="#1c1c3c" stroke-width="0.35" stroke-linejoin="round"/>
<path d="M602.9 74.1 L608.7 70.2 L614.6 74.1 L608.7 78.1Z" fill="#2a7fa8" stroke="#1c1c3c" stroke-width="0.35" stroke-linejoin="round"/>
<path d="M604.8 74.1 L608.7 71.5 L612.6 74.1 L608.7 76.8Z" fill="#237a86" stroke="#1c1c3c" stroke-width="0.35" stroke-linejoin="round"/>
<path d="M606.8 74.1 L608.7 72.8 L610.7 74.1 L608.7 75.4Z" fill="#2a8470" stroke="#1c1c3c" stroke-width="0.35" stroke-linejoin="round"/>
<path d="M604.2 88.2 L608.7 85.1 L613.2 88.2 L608.7 91.3Z" fill="#2e86c4" stroke="#1c1c3c" stroke-width="0.35" stroke-linejoin="round"/>
<path d="M605.7 88.2 L608.7 86.2 L611.7 88.2 L608.7 90.3Z" fill="#2a9ac8" stroke="#1c1c3c" stroke-width="0.35" stroke-linejoin="round"/>
<path d="M607.2 88.2 L608.7 87.2 L610.2 88.2 L608.7 89.3Z" fill="#2e86c4" stroke="#1c1c3c" stroke-width="0.35" stroke-linejoin="round"/>
<path d="M603.7 102.3 L608.7 98.7 L613.7 102.3 L608.7 105.9Z" fill="#2e86c4" stroke="#1c1c3c" stroke-width="0.35" stroke-linejoin="round"/>
<path d="M605.4 102.3 L608.7 99.9 L612.0 102.3 L608.7 104.7Z" fill="#2a9ac8" stroke="#1c1c3c" stroke-width="0.35" stroke-linejoin="round"/>
<path d="M607.0 102.3 L608.7 101.1 L610.4 102.3 L608.7 103.5Z" fill="#2e86c4" stroke="#1c1c3c" stroke-width="0.35" stroke-linejoin="round"/>
<path d="M671.8 140.3 L676.3 137.2 L680.7 140.3 L676.3 143.5Z" fill="#2e86c4" stroke="#1c1c3c" stroke-width="0.35" stroke-linejoin="round"/>
<path d="M673.3 140.3 L676.3 138.2 L679.2 140.3 L676.3 142.4Z" fill="#2a9ac8" stroke="#1c1c3c" stroke-width="0.35" stroke-linejoin="round"/>
<path d="M674.8 140.3 L676.3 139.3 L677.7 140.3 L676.3 141.4Z" fill="#2e86c4" stroke="#1c1c3c" stroke-width="0.35" stroke-linejoin="round"/>
<path d="M700.2 135.3 L706.3 131.9 L712.4 135.3 L712.4 141.2 L706.3 144.5 L700.2 141.2Z" fill="#2a8ab8" stroke="#1c1c3c" stroke-width="0.35" stroke-linejoin="round"/>
<path d="M701.7 136.1 L706.3 133.6 L710.9 136.1 L710.9 140.5 L706.3 142.9 L701.7 140.5Z" fill="#3aa6a0" stroke="#1c1c3c" stroke-width="0.35" stroke-linejoin="round"/>
<path d="M704.0 136.1 L708.6 136.1 L708.6 140.8 L704.0 140.8Z" fill="#6ab080" stroke="#1c1c3c" stroke-width="0.35" stroke-linejoin="round"/>
<path d="M705.5 135.7 L707.2 135.7 L707.2 141.2 L705.5 141.2Z" fill="#d8c040" stroke="#1c1c3c" stroke-width="0.35" stroke-linejoin="round"/>
<path d="M699.4 157.1 L705.7 155.3 L710.3 159.3 L706.1 162.2 L701.5 160.1Z" fill="#3aa0d8" stroke="#1c1c3c" stroke-width="0.35" stroke-linejoin="round"/>
<path d="M693.5 154.6 L699.0 150.6 L704.4 154.6 L699.0 158.6Z" fill="#18221c" stroke="#1c1c3c" stroke-width="0.35" stroke-linejoin="round"/>
<path d="M694.9 154.6 L699.0 151.6 L703.1 154.6 L699.0 157.6Z" fill="#2f4424" stroke="#1c1c3c" stroke-width="0.35" stroke-linejoin="round"/>
<path d="M696.2 154.6 L699.0 152.6 L701.7 154.6 L699.0 156.6Z" fill="#6a6a2a" stroke="#1c1c3c" stroke-width="0.35" stroke-linejoin="round"/>
<path d="M697.6 154.6 L699.0 153.6 L700.3 154.6 L699.0 155.6Z" fill="#c88a2c" stroke="#1c1c3c" stroke-width="0.35" stroke-linejoin="round"/>
<path d="M746.0 159.7 L751.5 156.3 L757.0 159.7 L751.5 163.0Z" fill="#2e86c4" stroke="#1c1c3c" stroke-width="0.35" stroke-linejoin="round"/>
<path d="M747.9 159.7 L751.5 157.4 L755.1 159.7 L751.5 161.9Z" fill="#2a9ac8" stroke="#1c1c3c" stroke-width="0.35" stroke-linejoin="round"/>
<path d="M749.7 159.7 L751.5 158.6 L753.3 159.7 L751.5 160.8Z" fill="#2e86c4" stroke="#1c1c3c" stroke-width="0.35" stroke-linejoin="round"/>
<path d="M605.8 188.3 L609.4 185.5 L613.0 188.3 L609.4 191.0Z" fill="#2e86c4" stroke="#1c1c3c" stroke-width="0.35" stroke-linejoin="round"/>
<path d="M607.0 188.3 L609.4 186.4 L611.8 188.3 L609.4 190.1Z" fill="#2a9ac8" stroke="#1c1c3c" stroke-width="0.35" stroke-linejoin="round"/>
<path d="M608.2 188.3 L609.4 187.3 L610.6 188.3 L609.4 189.2Z" fill="#2e86c4" stroke="#1c1c3c" stroke-width="0.35" stroke-linejoin="round"/>
<path d="M586.9 178.4 L593.6 173.5 L600.4 178.4 L593.6 183.2Z" fill="#18221c" stroke="#1c1c3c" stroke-width="0.35" stroke-linejoin="round"/>
<path d="M588.6 178.4 L593.6 174.8 L598.7 178.4 L593.6 182.0Z" fill="#2f4424" stroke="#1c1c3c" stroke-width="0.35" stroke-linejoin="round"/>
<path d="M590.3 178.4 L593.6 176.0 L597.0 178.4 L593.6 180.8Z" fill="#6a6a2a" stroke="#1c1c3c" stroke-width="0.35" stroke-linejoin="round"/>
<path d="M592.0 178.4 L593.6 177.2 L595.3 178.4 L593.6 179.6Z" fill="#c88a2c" stroke="#1c1c3c" stroke-width="0.35" stroke-linejoin="round"/>
<path d="M599.1 188.3 L602.0 186.2 L606.9 185.3 L612.1 186.2 L614.7 188.3 L612.1 190.4 L606.9 191.2 L602.0 190.4Z" fill="#2e86c4" stroke="#1c1c3c" stroke-width="0.35" stroke-linejoin="round"/>
<path d="M601.2 188.3 L603.3 187.0 L607.1 186.4 L611.3 187.2 L612.6 188.3 L611.3 189.5 L607.1 190.1 L603.3 189.5Z" fill="#35a0d0" stroke="#1c1c3c" stroke-width="0.35" stroke-linejoin="round"/>
<path d="M603.3 188.3 L605.0 187.6 L607.5 187.4 L610.0 188.3 L607.5 189.1 L605.0 188.9Z" fill="#2e86c4" stroke="#1c1c3c" stroke-width="0.35" stroke-linejoin="round"/>
</g>
<rect x="443.5" y="17" width="330.5" height="208.7" fill="none" stroke="#3a3560" stroke-width="0.6"/>
<line x1="452.40" x2="452.40" y1="225.7" y2="223.2" stroke="#2a2a50" stroke-width="0.5"/>
<text class="t" x="452.40" y="238.10" text-anchor="middle">0</text>
<line x1="506.00" x2="506.00" y1="225.7" y2="223.2" stroke="#2a2a50" stroke-width="0.5"/>
<text class="t" x="506.00" y="238.10" text-anchor="middle">1000</text>
<line x1="559.60" x2="559.60" y1="225.7" y2="223.2" stroke="#2a2a50" stroke-width="0.5"/>
<text class="t" x="559.60" y="238.10" text-anchor="middle">2000</text>
<line x1="613.20" x2="613.20" y1="225.7" y2="223.2" stroke="#2a2a50" stroke-width="0.5"/>
<text class="t" x="613.20" y="238.10" text-anchor="middle">3000</text>
<line x1="666.80" x2="666.80" y1="225.7" y2="223.2" stroke="#2a2a50" stroke-width="0.5"/>
<text class="t" x="666.80" y="238.10" text-anchor="middle">4000</text>
<line x1="720.40" x2="720.40" y1="225.7" y2="223.2" stroke="#2a2a50" stroke-width="0.5"/>
<text class="t" x="720.40" y="238.10" text-anchor="middle">5000</text>
<line x1="774.00" x2="774.00" y1="225.7" y2="223.2" stroke="#2a2a50" stroke-width="0.5"/>
<text class="t" x="774.00" y="238.10" text-anchor="middle">6000</text>
<line x1="443.5" x2="446" y1="225.70" y2="225.70" stroke="#2a2a50" stroke-width="0.5"/>
<text class="t" x="440.50" y="229.30" text-anchor="end">0</text>
<line x1="443.5" x2="446" y1="202.00" y2="202.00" stroke="#2a2a50" stroke-width="0.5"/>
<text class="t" x="440.50" y="205.60" text-anchor="end">1000</text>
<line x1="443.5" x2="446" y1="178.30" y2="178.30" stroke="#2a2a50" stroke-width="0.5"/>
<text class="t" x="440.50" y="181.90" text-anchor="end">2000</text>
<line x1="443.5" x2="446" y1="154.60" y2="154.60" stroke="#2a2a50" stroke-width="0.5"/>
<text class="t" x="440.50" y="158.20" text-anchor="end">3000</text>
<line x1="443.5" x2="446" y1="130.90" y2="130.90" stroke="#2a2a50" stroke-width="0.5"/>
<text class="t" x="440.50" y="134.50" text-anchor="end">4000</text>
<line x1="443.5" x2="446" y1="107.20" y2="107.20" stroke="#2a2a50" stroke-width="0.5"/>
<text class="t" x="440.50" y="110.80" text-anchor="end">5000</text>
<line x1="443.5" x2="446" y1="83.50" y2="83.50" stroke="#2a2a50" stroke-width="0.5"/>
<text class="t" x="440.50" y="87.10" text-anchor="end">6000</text>
<line x1="443.5" x2="446" y1="59.80" y2="59.80" stroke="#2a2a50" stroke-width="0.5"/>
<text class="t" x="440.50" y="63.40" text-anchor="end">7000</text>
<line x1="443.5" x2="446" y1="36.10" y2="36.10" stroke="#2a2a50" stroke-width="0.5"/>
<text class="t" x="440.50" y="39.70" text-anchor="end">8000</text>
<text class="ti" x="608.75" y="11.20" text-anchor="middle">Inverted susceptibilty</text>
<text class="ax" x="608.75" y="253.20" text-anchor="middle"><tspan font-style="italic">X</tspan>, m</text>
<text class="ax" transform="translate(411.70 130.35) rotate(-90)" text-anchor="middle"><tspan font-style="italic">Y</tspan>, m</text>
<text class="lb" x="400" y="14.9">(b)</text>
<rect x="443.5" y="260" width="330.5" height="15" fill="url(#pg)" stroke="#555" stroke-width="0.6"/>
<text class="t" x="443.50" y="286.60" text-anchor="middle">0</text>
<line x1="484.81" x2="484.81" y1="275" y2="272.5" stroke="#333" stroke-width="0.5"/>
<text class="t" x="484.81" y="286.60" text-anchor="middle">0.1</text>
<line x1="526.12" x2="526.12" y1="275" y2="272.5" stroke="#333" stroke-width="0.5"/>
<text class="t" x="526.12" y="286.60" text-anchor="middle">0.2</text>
<line x1="567.44" x2="567.44" y1="275" y2="272.5" stroke="#333" stroke-width="0.5"/>
<text class="t" x="567.44" y="286.60" text-anchor="middle">0.3</text>
<line x1="608.75" x2="608.75" y1="275" y2="272.5" stroke="#333" stroke-width="0.5"/>
<text class="t" x="608.75" y="286.60" text-anchor="middle">0.4</text>
<line x1="650.06" x2="650.06" y1="275" y2="272.5" stroke="#333" stroke-width="0.5"/>
<text class="t" x="650.06" y="286.60" text-anchor="middle">0.5</text>
<line x1="691.38" x2="691.38" y1="275" y2="272.5" stroke="#333" stroke-width="0.5"/>
<text class="t" x="691.38" y="286.60" text-anchor="middle">0.6</text>
<line x1="732.69" x2="732.69" y1="275" y2="272.5" stroke="#333" stroke-width="0.5"/>
<text class="t" x="732.69" y="286.60" text-anchor="middle">0.7</text>
<text class="t" x="774.00" y="286.60" text-anchor="middle">0.8</text>
</g>
<g id="panel-c">
<rect x="44" y="332" width="330" height="209.2" fill="#3e298c"/>
<clipPath id="clc"><rect x="44" y="332" width="330" height="209.2"/></clipPath>
<g clip-path="url(#clc)">
<g fill="#3458ac" stroke="#1c1c3c" stroke-width="0.7" stroke-linejoin="round">
<path d="M204.6 351.1 L209.3 346.4 L214.8 351.1 L209.3 355.7Z"/>
<path d="M205.4 360.7 L208.7 356.8 L211.8 360.3 L208.7 364.5Z"/>
<path d="M254.4 341.6 L245.7 346.2 L243.4 351.4 L227.8 355.2 L239.3 363.0 L230.7 369.3 L240.5 372.2 L239.9 379.7 L241.1 387.8 L239.9 394.8 L240.5 400.0 L227.8 407.5 L241.1 412.7 L238.2 420.8 L246.3 427.8 L253.8 427.2 L256.7 422.6 L262.5 417.4 L257.8 411.6 L264.8 403.5 L264.2 400.0 L264.8 394.8 L264.8 387.8 L265.9 380.9 L268.3 376.3 L274.0 364.7 L274.0 345.0 L262.5 341.3Z"/>
<path d="M255.5 434.7 L257.3 440.5 L255.5 448.6 L257.3 455.5 L246.9 463.6 L233.5 460.2 L237.0 456.1 L246.3 455.0 L248.0 450.3 L230.7 445.1 L238.2 441.6 L246.3 437.0 L252.1 434.7Z"/>
<path d="M254.9 435.0 L256.1 448.5 L248.2 463.0 L234.8 459.7 L237.0 456.3 L248.2 451.8 L230.3 445.1 L244.8 438.4 L251.6 435.0Z"/>
<path d="M229.1 483.6 L232.8 481.8 L240.9 482.4 L242.1 483.9 L233.5 485.5Z"/>
<path d="M244.4 479.5 L245.9 478.1 L247.4 479.5 L245.9 481.0Z"/>
<path d="M226.0 497.9 L235.9 492.9 L253.9 490.8 L255.2 494.8 L253.3 497.9 L245.9 502.2 L235.9 501.0Z"/>
<path d="M282.4 535.3 L283.9 533.8 L285.4 535.3 L283.9 536.8Z"/>
<path d="M264.8 341.6 L269.4 345.0 L281.0 349.7 L285.6 347.4 L290.0 345.0 L296.9 341.0 L307.4 340.2 L321.2 341.6 L314.9 405.2 L310.8 411.6 L314.3 417.4 L310.2 423.7 L313.1 431.2 L307.4 437.0 L309.1 444.0 L302.1 450.9 L306.2 460.2 L301.6 470.0 L303.6 477.4 L300.5 488.6 L295.6 488.8 L300.5 489.8 L304.3 497.9 L299.3 502.5 L293.7 503.2 L298.7 504.1 L296.8 505.9 L290.0 509.7 L283.1 512.8 L281.8 507.8 L290.0 506.6 L286.8 502.8 L274.4 497.9 L285.5 491.7 L286.8 488.6 L275.6 483.6 L283.1 477.4 L282.4 470.0 L287.9 465.9 L274.0 460.2 L291.7 450.9 L274.6 445.7 L282.7 437.3 L276.6 431.2 L283.5 426.8 L277.3 417.4 L283.1 412.1 L274.6 407.5 L279.8 400.0 L279.8 395.9 L275.2 387.8 L272.3 379.2 L268.3 376.3Z"/>
<path d="M297.7 510.3 L300.4 514.6 L297.7 519.0 L295.0 514.6Z"/>
<path d="M313.1 341.0 L321.2 341.6 L336.3 342.1 L350.2 340.4 L360.6 341.6 L368.7 346.2 L371.0 347.9 L374.0 341.0 L374.0 496.0 L373.9 494.8 L369.3 496.7 L366.9 494.2 L353.8 502.8 L358.2 508.4 L353.2 514.6 L354.5 523.3 L348.3 525.4 L352.0 529.5 L351.4 532.0 L345.8 531.4 L343.9 528.3 L344.5 526.4 L339.0 522.7 L330.9 523.6 L327.2 522.1 L336.5 517.7 L329.0 512.1 L328.4 507.2 L333.4 502.8 L322.8 497.9 L329.0 489.2 L322.8 483.6 L326.6 475.0 L322.8 470.0 L330.5 464.8 L324.7 457.8 L327.6 449.7 L318.9 442.8 L321.8 435.9 L314.9 430.7 L322.4 420.2 L321.2 417.4 L327.6 412.7 L323.5 407.5 L314.9 405.2Z"/>
<path d="M369.3 507.2 L373.9 504.1 L373.9 511.5Z"/>
<path d="M371.2 519.0 L373.9 517.1 L373.9 521.4Z"/>
<path d="M367.5 532.6 L373.9 527.6 L373.9 541.0 L370.6 541.0Z"/>
</g><g fill="#3458ac">
<path d="M204.6 351.1 L209.3 346.4 L214.8 351.1 L209.3 355.7Z"/>
<path d="M205.4 360.7 L208.7 356.8 L211.8 360.3 L208.7 364.5Z"/>
<path d="M254.4 341.6 L245.7 346.2 L243.4 351.4 L227.8 355.2 L239.3 363.0 L230.7 369.3 L240.5 372.2 L239.9 379.7 L241.1 387.8 L239.9 394.8 L240.5 400.0 L227.8 407.5 L241.1 412.7 L238.2 420.8 L246.3 427.8 L253.8 427.2 L256.7 422.6 L262.5 417.4 L257.8 411.6 L264.8 403.5 L264.2 400.0 L264.8 394.8 L264.8 387.8 L265.9 380.9 L268.3 376.3 L274.0 364.7 L274.0 345.0 L262.5 341.3Z"/>
<path d="M255.5 434.7 L257.3 440.5 L255.5 448.6 L257.3 455.5 L246.9 463.6 L233.5 460.2 L237.0 456.1 L246.3 455.0 L248.0 450.3 L230.7 445.1 L238.2 441.6 L246.3 437.0 L252.1 434.7Z"/>
<path d="M254.9 435.0 L256.1 448.5 L248.2 463.0 L234.8 459.7 L237.0 456.3 L248.2 451.8 L230.3 445.1 L244.8 438.4 L251.6 435.0Z"/>
<path d="M229.1 483.6 L232.8 481.8 L240.9 482.4 L242.1 483.9 L233.5 485.5Z"/>
<path d="M244.4 479.5 L245.9 478.1 L247.4 479.5 L245.9 481.0Z"/>
<path d="M226.0 497.9 L235.9 492.9 L253.9 490.8 L255.2 494.8 L253.3 497.9 L245.9 502.2 L235.9 501.0Z"/>
<path d="M282.4 535.3 L283.9 533.8 L285.4 535.3 L283.9 536.8Z"/>
<path d="M264.8 341.6 L269.4 345.0 L281.0 349.7 L285.6 347.4 L290.0 345.0 L296.9 341.0 L307.4 340.2 L321.2 341.6 L314.9 405.2 L310.8 411.6 L314.3 417.4 L310.2 423.7 L313.1 431.2 L307.4 437.0 L309.1 444.0 L302.1 450.9 L306.2 460.2 L301.6 470.0 L303.6 477.4 L300.5 488.6 L295.6 488.8 L300.5 489.8 L304.3 497.9 L299.3 502.5 L293.7 503.2 L298.7 504.1 L296.8 505.9 L290.0 509.7 L283.1 512.8 L281.8 507.8 L290.0 506.6 L286.8 502.8 L274.4 497.9 L285.5 491.7 L286.8 488.6 L275.6 483.6 L283.1 477.4 L282.4 470.0 L287.9 465.9 L274.0 460.2 L291.7 450.9 L274.6 445.7 L282.7 437.3 L276.6 431.2 L283.5 426.8 L277.3 417.4 L283.1 412.1 L274.6 407.5 L279.8 400.0 L279.8 395.9 L275.2 387.8 L272.3 379.2 L268.3 376.3Z"/>
<path d="M297.7 510.3 L300.4 514.6 L297.7 519.0 L295.0 514.6Z"/>
<path d="M313.1 341.0 L321.2 341.6 L336.3 342.1 L350.2 340.4 L360.6 341.6 L368.7 346.2 L371.0 347.9 L374.0 341.0 L374.0 496.0 L373.9 494.8 L369.3 496.7 L366.9 494.2 L353.8 502.8 L358.2 508.4 L353.2 514.6 L354.5 523.3 L348.3 525.4 L352.0 529.5 L351.4 532.0 L345.8 531.4 L343.9 528.3 L344.5 526.4 L339.0 522.7 L330.9 523.6 L327.2 522.1 L336.5 517.7 L329.0 512.1 L328.4 507.2 L333.4 502.8 L322.8 497.9 L329.0 489.2 L322.8 483.6 L326.6 475.0 L322.8 470.0 L330.5 464.8 L324.7 457.8 L327.6 449.7 L318.9 442.8 L321.8 435.9 L314.9 430.7 L322.4 420.2 L321.2 417.4 L327.6 412.7 L323.5 407.5 L314.9 405.2Z"/>
<path d="M369.3 507.2 L373.9 504.1 L373.9 511.5Z"/>
<path d="M371.2 519.0 L373.9 517.1 L373.9 521.4Z"/>
<path d="M367.5 532.6 L373.9 527.6 L373.9 541.0 L370.6 541.0Z"/>
</g>
<g fill="#3e298c" stroke="#1c1c3c" stroke-width="0.7" stroke-linejoin="round">
<path d="M357.6 478.7 L364.4 471.9 L371.2 475.6 L364.4 480.9Z"/>
<path d="M356.3 488.8 L364.4 484.9 L373.1 488.6 L369.3 491.1 L364.4 492.1Z"/>
<path d="M362.9 422.0 L365.8 417.9 L368.7 422.0 L365.8 426.4Z"/>
<path d="M362.7 433.5 L365.8 427.8 L368.9 434.7 L365.8 438.8Z"/>
<path d="M358.3 450.0 L365.2 444.5 L372.4 450.0 L365.2 455.3Z"/>
<path d="M354.8 464.8 L364.0 456.9 L373.3 464.8 L364.0 472.7Z"/>
</g><g fill="#3e298c">
<path d="M357.6 478.7 L364.4 471.9 L371.2 475.6 L364.4 480.9Z"/>
<path d="M356.3 488.8 L364.4 484.9 L373.1 488.6 L369.3 491.1 L364.4 492.1Z"/>
<path d="M362.9 422.0 L365.8 417.9 L368.7 422.0 L365.8 426.4Z"/>
<path d="M362.7 433.5 L365.8 427.8 L368.9 434.7 L365.8 438.8Z"/>
<path d="M358.3 450.0 L365.2 444.5 L372.4 450.0 L365.2 455.3Z"/>
<path d="M354.8 464.8 L364.0 456.9 L373.3 464.8 L364.0 472.7Z"/>
</g>
<g fill="#2873bc" stroke="#1c1c3c" stroke-width="0.7" stroke-linejoin="round">
<path d="M261.3 347.4 L264.8 351.4 L267.7 360.1 L264.8 365.9 L263.0 376.3 L260.2 384.4 L256.7 389.0 L252.6 389.0 L250.9 385.5 L254.4 380.9 L257.8 378.6 L250.9 375.1 L247.4 369.3 L250.9 364.7 L249.7 360.1 L255.5 351.4Z"/>
<path d="M252.6 400.0 L257.8 400.0 L256.7 404.0 L253.8 405.2Z"/>
<path d="M252.6 400.0 L254.4 397.7 L256.7 400.0Z"/>
<path d="M290.0 354.9 L285.6 355.7 L290.0 357.8Z"/>
<path d="M283.3 370.5 L290.0 368.8 L290.0 372.2Z"/>
<path d="M290.0 355.5 L295.8 353.1 L305.0 347.1 L316.6 349.1 L328.2 353.7 L342.1 353.7 L352.5 349.7 L358.3 346.8 L364.0 350.8 L366.4 353.7 L364.0 364.7 L363.6 400.0 L361.7 406.9 L365.2 413.9 L360.0 419.7 L364.0 427.8 L358.3 434.7 L361.7 440.5 L354.8 448.6 L356.5 455.5 L354.8 461.3 L350.2 466.5 L345.5 464.8 L329.3 459.0 L336.3 457.8 L343.8 453.8 L336.3 448.6 L328.2 444.5 L340.9 439.9 L338.6 434.7 L340.9 428.9 L338.6 423.1 L328.8 421.4 L338.6 412.7 L329.3 408.1 L328.2 400.0 L336.3 393.0 L340.9 390.2 L336.3 384.4 L338.6 378.6 L335.1 374.0 L324.7 371.1 L325.9 368.2 L336.3 367.0 L342.1 364.7 L336.3 360.1 L328.2 359.5 L321.2 363.5 L318.9 368.2 L319.5 376.3 L316.6 380.9 L321.2 386.7 L316.6 392.5 L312.0 397.1 L313.1 400.0 L309.7 400.0 L307.4 408.1 L305.0 414.5 L299.3 415.0 L294.6 411.6 L290.0 405.2 L296.9 400.0 L299.3 395.9 L293.5 390.2 L296.9 384.4 L292.3 378.6 L295.2 370.5 L290.0 367.0 L295.2 363.5 L290.0 357.2Z"/>
<path d="M294.6 422.0 L299.3 419.7 L305.0 421.4 L306.2 425.5 L302.7 428.3 L296.9 427.2Z"/>
<path d="M290.0 444.5 L295.2 445.5 L290.0 446.5Z"/>
<path d="M327.8 445.1 L334.5 439.5 L345.7 435.0 L357.0 435.0 L354.7 448.5 L357.0 457.4 L343.5 461.9 L334.5 459.7 L327.8 452.9Z"/>
<path d="M346.4 481.8 L348.3 478.1 L352.0 477.4 L352.6 482.4 L349.5 484.3Z"/>
<path d="M327.2 497.9 L333.4 496.0 L343.3 495.4 L352.0 491.7 L353.2 493.6 L345.8 499.1 L333.4 500.4Z"/>
<path d="M348.3 470.0 L353.2 470.0 L351.4 472.5Z"/>
<path d="M343.9 528.3 L347.0 527.0 L352.0 529.5 L351.4 532.0 L345.8 531.4Z"/>
<path d="M348.0 481.0 L350.7 477.2 L353.4 481.0 L350.7 484.8Z"/>
<path d="M349.1 469.8 L351.8 466.4 L354.5 469.8 L351.8 473.1Z"/>
<path d="M370.6 479.9 L373.9 477.4 L373.9 486.1Z"/>
<path d="M371.2 492.3 L373.9 491.1 L373.9 498.5Z"/>
<path d="M370.6 507.2 L373.9 505.3 L373.9 509.7Z"/>
<path d="M369.3 532.0 L373.9 529.5 L373.9 539.4Z"/>
<path d="M369.8 438.2 L374.0 434.7 L374.0 455.5 L371.0 450.9 L372.7 446.3Z"/>
<path d="M361.5 356.6 L366.4 352.0 L371.0 349.1 L374.0 346.2 L374.0 404.6 L369.8 402.3 L366.4 405.8 L361.7 401.2Z"/>
</g><g fill="#2873bc">
<path d="M261.3 347.4 L264.8 351.4 L267.7 360.1 L264.8 365.9 L263.0 376.3 L260.2 384.4 L256.7 389.0 L252.6 389.0 L250.9 385.5 L254.4 380.9 L257.8 378.6 L250.9 375.1 L247.4 369.3 L250.9 364.7 L249.7 360.1 L255.5 351.4Z"/>
<path d="M252.6 400.0 L257.8 400.0 L256.7 404.0 L253.8 405.2Z"/>
<path d="M252.6 400.0 L254.4 397.7 L256.7 400.0Z"/>
<path d="M290.0 354.9 L285.6 355.7 L290.0 357.8Z"/>
<path d="M283.3 370.5 L290.0 368.8 L290.0 372.2Z"/>
<path d="M290.0 355.5 L295.8 353.1 L305.0 347.1 L316.6 349.1 L328.2 353.7 L342.1 353.7 L352.5 349.7 L358.3 346.8 L364.0 350.8 L366.4 353.7 L364.0 364.7 L363.6 400.0 L361.7 406.9 L365.2 413.9 L360.0 419.7 L364.0 427.8 L358.3 434.7 L361.7 440.5 L354.8 448.6 L356.5 455.5 L354.8 461.3 L350.2 466.5 L345.5 464.8 L329.3 459.0 L336.3 457.8 L343.8 453.8 L336.3 448.6 L328.2 444.5 L340.9 439.9 L338.6 434.7 L340.9 428.9 L338.6 423.1 L328.8 421.4 L338.6 412.7 L329.3 408.1 L328.2 400.0 L336.3 393.0 L340.9 390.2 L336.3 384.4 L338.6 378.6 L335.1 374.0 L324.7 371.1 L325.9 368.2 L336.3 367.0 L342.1 364.7 L336.3 360.1 L328.2 359.5 L321.2 363.5 L318.9 368.2 L319.5 376.3 L316.6 380.9 L321.2 386.7 L316.6 392.5 L312.0 397.1 L313.1 400.0 L309.7 400.0 L307.4 408.1 L305.0 414.5 L299.3 415.0 L294.6 411.6 L290.0 405.2 L296.9 400.0 L299.3 395.9 L293.5 390.2 L296.9 384.4 L292.3 378.6 L295.2 370.5 L290.0 367.0 L295.2 363.5 L290.0 357.2Z"/>
<path d="M294.6 422.0 L299.3 419.7 L305.0 421.4 L306.2 425.5 L302.7 428.3 L296.9 427.2Z"/>
<path d="M290.0 444.5 L295.2 445.5 L290.0 446.5Z"/>
<path d="M327.8 445.1 L334.5 439.5 L345.7 435.0 L357.0 435.0 L354.7 448.5 L357.0 457.4 L343.5 461.9 L334.5 459.7 L327.8 452.9Z"/>
<path d="M346.4 481.8 L348.3 478.1 L352.0 477.4 L352.6 482.4 L349.5 484.3Z"/>
<path d="M327.2 497.9 L333.4 496.0 L343.3 495.4 L352.0 491.7 L353.2 493.6 L345.8 499.1 L333.4 500.4Z"/>
<path d="M348.3 470.0 L353.2 470.0 L351.4 472.5Z"/>
<path d="M343.9 528.3 L347.0 527.0 L352.0 529.5 L351.4 532.0 L345.8 531.4Z"/>
<path d="M348.0 481.0 L350.7 477.2 L353.4 481.0 L350.7 484.8Z"/>
<path d="M349.1 469.8 L351.8 466.4 L354.5 469.8 L351.8 473.1Z"/>
<path d="M370.6 479.9 L373.9 477.4 L373.9 486.1Z"/>
<path d="M371.2 492.3 L373.9 491.1 L373.9 498.5Z"/>
<path d="M370.6 507.2 L373.9 505.3 L373.9 509.7Z"/>
<path d="M369.3 532.0 L373.9 529.5 L373.9 539.4Z"/>
<path d="M369.8 438.2 L374.0 434.7 L374.0 455.5 L371.0 450.9 L372.7 446.3Z"/>
<path d="M361.5 356.6 L366.4 352.0 L371.0 349.1 L374.0 346.2 L374.0 404.6 L369.8 402.3 L366.4 405.8 L361.7 401.2Z"/>
</g>
<g fill="#2588c5" stroke="#1c1c3c" stroke-width="0.7" stroke-linejoin="round">
<path d="M256.3 360.3 L261.9 358.1 L263.4 361.0 L261.9 364.7 L259.0 363.5Z"/>
<path d="M306.2 353.7 L311.4 358.9 L309.7 364.7 L312.0 369.3 L308.5 378.6 L312.6 389.0 L307.4 391.9 L301.6 390.2 L298.7 385.5 L305.0 379.7 L301.6 375.1 L295.8 371.1 L302.7 364.7 L299.8 360.7Z"/>
<path d="M358.3 354.9 L362.3 357.8 L362.3 417.4 L359.4 417.4 L353.0 426.6 L351.3 429.5 L344.4 422.6 L350.2 416.2 L345.0 407.5 L344.4 400.0 L345.5 395.9 L349.0 390.2 L345.5 384.4 L347.8 378.6 L345.5 371.6 L332.8 369.9 L344.4 364.7 L347.8 359.5 L353.0 358.9Z"/>
<path d="M349.2 441.6 L351.3 438.2 L353.4 441.6 L351.3 445.1Z"/>
<path d="M349.8 441.3 L351.6 437.7 L353.4 441.3 L351.6 445.3Z"/>
</g><g fill="#2588c5">
<path d="M256.3 360.3 L261.9 358.1 L263.4 361.0 L261.9 364.7 L259.0 363.5Z"/>
<path d="M306.2 353.7 L311.4 358.9 L309.7 364.7 L312.0 369.3 L308.5 378.6 L312.6 389.0 L307.4 391.9 L301.6 390.2 L298.7 385.5 L305.0 379.7 L301.6 375.1 L295.8 371.1 L302.7 364.7 L299.8 360.7Z"/>
<path d="M358.3 354.9 L362.3 357.8 L362.3 417.4 L359.4 417.4 L353.0 426.6 L351.3 429.5 L344.4 422.6 L350.2 416.2 L345.0 407.5 L344.4 400.0 L345.5 395.9 L349.0 390.2 L345.5 384.4 L347.8 378.6 L345.5 371.6 L332.8 369.9 L344.4 364.7 L347.8 359.5 L353.0 358.9Z"/>
<path d="M349.2 441.6 L351.3 438.2 L353.4 441.6 L351.3 445.1Z"/>
<path d="M349.8 441.3 L351.6 437.7 L353.4 441.3 L351.6 445.3Z"/>
</g>
<g fill="#239cc6" stroke="#1c1c3c" stroke-width="0.7" stroke-linejoin="round">
<path d="M358.5 355.7 L361.1 358.9 L361.5 400.0 L360.8 406.9 L357.7 411.6 L354.8 413.9 L350.2 411.6 L347.8 408.1 L345.5 400.0 L350.2 394.8 L353.6 387.8 L349.0 382.1 L353.0 376.3 L346.7 369.3 L354.8 363.5 L353.0 358.9Z"/>
<path d="M371.0 354.9 L374.0 352.0 L374.0 412.7 L371.9 406.9 L372.8 390.2 L371.2 384.4 L372.4 376.3 L371.0 369.9 L372.4 363.5Z"/>
</g><g fill="#239cc6">
<path d="M358.5 355.7 L361.1 358.9 L361.5 400.0 L360.8 406.9 L357.7 411.6 L354.8 413.9 L350.2 411.6 L347.8 408.1 L345.5 400.0 L350.2 394.8 L353.6 387.8 L349.0 382.1 L353.0 376.3 L346.7 369.3 L354.8 363.5 L353.0 358.9Z"/>
<path d="M371.0 354.9 L374.0 352.0 L374.0 412.7 L371.9 406.9 L372.8 390.2 L371.2 384.4 L372.4 376.3 L371.0 369.9 L372.4 363.5Z"/>
</g>
<g fill="#29a7bb" stroke="#1c1c3c" stroke-width="0.7" stroke-linejoin="round">
<path d="M358.3 357.8 L360.2 361.2 L359.8 369.3 L360.3 378.6 L359.2 387.8 L359.9 400.0 L359.4 404.6 L354.8 409.3 L351.3 411.0 L345.5 407.2 L350.2 400.0 L354.8 394.8 L356.5 387.8 L353.0 382.1 L357.1 376.3 L352.5 369.3 L354.8 364.7Z"/>
<path d="M371.6 402.3 L374.0 400.0 L374.0 410.4 L372.4 408.1Z"/>
<path d="M371.6 431.2 L374.0 427.8 L374.0 434.7Z"/>
<path d="M371.0 446.3 L374.0 444.0 L374.0 448.6Z"/>
</g><g fill="#29a7bb">
<path d="M358.3 357.8 L360.2 361.2 L359.8 369.3 L360.3 378.6 L359.2 387.8 L359.9 400.0 L359.4 404.6 L354.8 409.3 L351.3 411.0 L345.5 407.2 L350.2 400.0 L354.8 394.8 L356.5 387.8 L353.0 382.1 L357.1 376.3 L352.5 369.3 L354.8 364.7Z"/>
<path d="M371.6 402.3 L374.0 400.0 L374.0 410.4 L372.4 408.1Z"/>
<path d="M371.6 431.2 L374.0 427.8 L374.0 434.7Z"/>
<path d="M371.0 446.3 L374.0 444.0 L374.0 448.6Z"/>
</g>
<g fill="#3458ac" stroke="#1c1c3c" stroke-width="0.7" stroke-linejoin="round">
<path d="M366.4 352.6 L367.7 356.0 L366.4 359.5 L365.0 356.0Z"/>
<path d="M366.4 360.3 L368.4 368.2 L366.4 376.3 L364.3 368.2Z"/>
<path d="M366.4 376.9 L368.4 384.4 L366.4 392.5 L364.3 384.4Z"/>
<path d="M366.4 393.0 L368.2 398.3 L366.4 404.6 L364.5 398.3Z"/>
<path d="M363.1 358.9 L364.0 368.2 L363.1 378.6 L362.4 368.2Z"/>
<path d="M369.8 358.9 L370.7 368.2 L369.8 378.6 L369.1 368.2Z"/>
</g><g fill="#3458ac">
<path d="M366.4 352.6 L367.7 356.0 L366.4 359.5 L365.0 356.0Z"/>
<path d="M366.4 360.3 L368.4 368.2 L366.4 376.3 L364.3 368.2Z"/>
<path d="M366.4 376.9 L368.4 384.4 L366.4 392.5 L364.3 384.4Z"/>
<path d="M366.4 393.0 L368.2 398.3 L366.4 404.6 L364.5 398.3Z"/>
<path d="M363.1 358.9 L364.0 368.2 L363.1 378.6 L362.4 368.2Z"/>
<path d="M369.8 358.9 L370.7 368.2 L369.8 378.6 L369.1 368.2Z"/>
</g>
<g fill="#82be82" stroke="#1c1c3c" stroke-width="0.7" stroke-linejoin="round">
<path d="M371.4 369.9 L372.8 367.3 L374.0 366.8 L374.0 373.0 L372.8 372.5Z"/>
</g><g fill="#82be82">
<path d="M371.4 369.9 L372.8 367.3 L374.0 366.8 L374.0 373.0 L372.8 372.5Z"/>
</g>
<g fill="#8fb96a" stroke="#1c1c3c" stroke-width="0.5" stroke-linejoin="round">
<path d="M358.5 359.3 L359.8 360.7 L358.5 362.3 L357.2 360.7Z"/>
<path d="M357.7 372.3 L359.3 375.5 L355.5 374.7Z"/>
</g><g fill="#8fb96a">
<path d="M358.5 359.3 L359.8 360.7 L358.5 362.3 L357.2 360.7Z"/>
<path d="M357.7 372.3 L359.3 375.5 L355.5 374.7Z"/>
</g>
<g fill="#27a5bf" stroke="#1c1c3c" stroke-width="0.5" stroke-linejoin="round">
<path d="M306.4 359.3 L307.8 360.7 L306.4 362.0 L305.0 360.7Z"/>
<path d="M306.2 370.8 L307.6 374.0 L304.2 375.3Z"/>
</g><g fill="#27a5bf">
<path d="M306.4 359.3 L307.8 360.7 L306.4 362.0 L305.0 360.7Z"/>
<path d="M306.2 370.8 L307.6 374.0 L304.2 375.3Z"/>
</g>
<path d="M332.8 369.7 L339.7 369.0 L346.7 369.7 L339.7 370.4 Z" fill="#1f4a40"/>
<path d="M353.0 384.0 L356.2 383.4 L359.4 384.0 L356.2 384.6 Z" fill="#1f5a40"/>
<path d="M294.6 407.9 L298.1 407.3 L301.6 407.9 L298.1 408.4 Z" fill="#1f3a6a"/>
<path d="M327.0 431.5 L329.9 430.9 L332.8 431.5 L329.9 432.0 Z" fill="#1f3a6a"/>
<path d="M334.5 445.7 L341.2 445.0 L347.8 445.7 L341.2 446.4 Z" fill="#15304a"/>
<path d="M329.7 484.3 L335.2 483.6 L340.8 484.3 L335.2 484.9 Z" fill="#101a30"/>
<path d="M328.9 483.9 L335.1 483.0 L341.3 483.9 L335.1 484.8 Z" fill="#101a30"/>
<path d="M334.5 445.1 L341.3 444.2 L348.0 445.1 L341.3 446.0 Z" fill="#101a30"/>
<path d="M268.0 365.9 L269.4 364.7 L270.8 365.9 L269.4 367.0 Z" fill="#5a2a5a"/>
<path d="M319.8 383.8 L321.6 382.4 L323.3 383.8 L321.6 385.2 Z" fill="#3a2a8a"/>
<path d="M284.1 445.5 L289.7 444.6 L295.3 445.5 L289.7 446.4 Z" fill="#1f4a6a"/>
<circle cx="133.5" cy="369.8" r="0.8" fill="#2a4a7a"/>
<circle cx="133.5" cy="408.0" r="0.8" fill="#2a4a7a"/>
</g>
<rect x="44" y="332" width="330" height="209.2" fill="none" stroke="#3a3560" stroke-width="0.6"/>
<line x1="52.40" x2="52.40" y1="541.2" y2="538.7" stroke="#2a2a50" stroke-width="0.5"/>
<text class="t" x="52.40" y="553.60" text-anchor="middle">0</text>
<line x1="106.00" x2="106.00" y1="541.2" y2="538.7" stroke="#2a2a50" stroke-width="0.5"/>
<text class="t" x="106.00" y="553.60" text-anchor="middle">1000</text>
<line x1="159.60" x2="159.60" y1="541.2" y2="538.7" stroke="#2a2a50" stroke-width="0.5"/>
<text class="t" x="159.60" y="553.60" text-anchor="middle">2000</text>
<line x1="213.20" x2="213.20" y1="541.2" y2="538.7" stroke="#2a2a50" stroke-width="0.5"/>
<text class="t" x="213.20" y="553.60" text-anchor="middle">3000</text>
<line x1="266.80" x2="266.80" y1="541.2" y2="538.7" stroke="#2a2a50" stroke-width="0.5"/>
<text class="t" x="266.80" y="553.60" text-anchor="middle">4000</text>
<line x1="320.40" x2="320.40" y1="541.2" y2="538.7" stroke="#2a2a50" stroke-width="0.5"/>
<text class="t" x="320.40" y="553.60" text-anchor="middle">5000</text>
<line x1="374.00" x2="374.00" y1="541.2" y2="538.7" stroke="#2a2a50" stroke-width="0.5"/>
<text class="t" x="374.00" y="553.60" text-anchor="middle">6000</text>
<line x1="44" x2="46.5" y1="541.20" y2="541.20" stroke="#2a2a50" stroke-width="0.5"/>
<text class="t" x="41.00" y="544.80" text-anchor="end">0</text>
<line x1="44" x2="46.5" y1="517.50" y2="517.50" stroke="#2a2a50" stroke-width="0.5"/>
<text class="t" x="41.00" y="521.10" text-anchor="end">1000</text>
<line x1="44" x2="46.5" y1="493.80" y2="493.80" stroke="#2a2a50" stroke-width="0.5"/>
<text class="t" x="41.00" y="497.40" text-anchor="end">2000</text>
<line x1="44" x2="46.5" y1="470.10" y2="470.10" stroke="#2a2a50" stroke-width="0.5"/>
<text class="t" x="41.00" y="473.70" text-anchor="end">3000</text>
<line x1="44" x2="46.5" y1="446.40" y2="446.40" stroke="#2a2a50" stroke-width="0.5"/>
<text class="t" x="41.00" y="450.00" text-anchor="end">4000</text>
<line x1="44" x2="46.5" y1="422.70" y2="422.70" stroke="#2a2a50" stroke-width="0.5"/>
<text class="t" x="41.00" y="426.30" text-anchor="end">5000</text>
<line x1="44" x2="46.5" y1="399.00" y2="399.00" stroke="#2a2a50" stroke-width="0.5"/>
<text class="t" x="41.00" y="402.60" text-anchor="end">6000</text>
<line x1="44" x2="46.5" y1="375.30" y2="375.30" stroke="#2a2a50" stroke-width="0.5"/>
<text class="t" x="41.00" y="378.90" text-anchor="end">7000</text>
<line x1="44" x2="46.5" y1="351.60" y2="351.60" stroke="#2a2a50" stroke-width="0.5"/>
<text class="t" x="41.00" y="355.20" text-anchor="end">8000</text>
<text class="ti" x="209.00" y="326.70" text-anchor="middle">Inverted susceptibilty</text>
<text class="ax" x="209.00" y="568.70" text-anchor="middle"><tspan font-style="italic">X</tspan>, m</text>
<text class="ax" transform="translate(12.20 445.60) rotate(-90)" text-anchor="middle"><tspan font-style="italic">Y</tspan>, m</text>
<text class="lb" x="1" y="329.9">(c)</text>
<rect x="44" y="575" width="330" height="15" fill="url(#pg)" stroke="#555" stroke-width="0.6"/>
<text class="t" x="44.00" y="601.60" text-anchor="middle">0</text>
<line x1="77.00" x2="77.00" y1="590" y2="587.5" stroke="#333" stroke-width="0.5"/>
<text class="t" x="77.00" y="601.60" text-anchor="middle">0.2</text>
<line x1="110.00" x2="110.00" y1="590" y2="587.5" stroke="#333" stroke-width="0.5"/>
<text class="t" x="110.00" y="601.60" text-anchor="middle">0.4</text>
<line x1="143.00" x2="143.00" y1="590" y2="587.5" stroke="#333" stroke-width="0.5"/>
<text class="t" x="143.00" y="601.60" text-anchor="middle">0.5</text>
<line x1="176.00" x2="176.00" y1="590" y2="587.5" stroke="#333" stroke-width="0.5"/>
<text class="t" x="176.00" y="601.60" text-anchor="middle">0.6</text>
<line x1="209.00" x2="209.00" y1="590" y2="587.5" stroke="#333" stroke-width="0.5"/>
<text class="t" x="209.00" y="601.60" text-anchor="middle">1.0</text>
<line x1="242.00" x2="242.00" y1="590" y2="587.5" stroke="#333" stroke-width="0.5"/>
<text class="t" x="242.00" y="601.60" text-anchor="middle">1.2</text>
<line x1="275.00" x2="275.00" y1="590" y2="587.5" stroke="#333" stroke-width="0.5"/>
<text class="t" x="275.00" y="601.60" text-anchor="middle">1.4</text>
<line x1="308.00" x2="308.00" y1="590" y2="587.5" stroke="#333" stroke-width="0.5"/>
<text class="t" x="308.00" y="601.60" text-anchor="middle">1.6</text>
<line x1="341.00" x2="341.00" y1="590" y2="587.5" stroke="#333" stroke-width="0.5"/>
<text class="t" x="341.00" y="601.60" text-anchor="middle">1.8</text>
<text class="t" x="374.00" y="601.60" text-anchor="middle">2.0</text>
</g>
<g id="panel-d">
<rect x="443.5" y="332" width="330.5" height="209.2" fill="#3e298c"/>
<clipPath id="cld"><rect x="443.5" y="332" width="330.5" height="209.2"/></clipPath>
<g clip-path="url(#cld)">
<g fill="#3458ac" stroke="#1c1c3c" stroke-width="0.7" stroke-linejoin="round">
<path d="M596.4 354.9 L600.4 352.6 L616.6 350.8 L622.4 347.4 L640.9 345.0 L645.5 342.1 L657.1 341.6 L664.0 345.0 L671.0 343.3 L680.0 339.8 L688.6 344.1 L698.3 340.4 L708.1 341.6 L715.5 342.2 L721.6 339.2 L728.9 339.8 L737.5 342.2 L743.6 339.8 L752.2 340.4 L759.5 345.9 L763.2 353.2 L761.9 361.8 L764.4 370.4 L758.3 376.5 L760.7 383.8 L755.8 391.1 L758.3 400.0 L747.9 407.3 L750.9 413.5 L747.3 422.0 L753.4 431.8 L747.3 436.7 L750.9 443.4 L757.7 445.9 L746.7 450.1 L746.0 461.1 L748.5 470.0 L747.0 472.5 L744.5 477.4 L749.5 482.4 L758.8 484.6 L747.0 486.1 L739.5 488.4 L733.3 488.6 L725.9 486.7 L720.3 483.6 L729.0 477.4 L727.1 473.7 L719.7 470.0 L731.4 466.7 L728.9 464.8 L719.1 455.6 L728.9 450.1 L727.1 448.3 L719.1 441.0 L726.5 435.5 L722.2 431.2 L725.2 422.6 L717.3 417.1 L725.2 411.0 L717.9 402.4 L719.1 400.0 L721.6 387.5 L716.7 378.9 L722.2 375.2 L713.0 370.4 L669.8 368.8 L664.0 369.9 L655.9 374.5 L654.8 378.6 L649.0 385.5 L650.2 390.2 L657.7 393.6 L654.8 395.9 L640.9 398.3 L631.6 397.1 L628.2 394.2 L634.5 390.2 L638.0 386.7 L636.3 382.6 L623.5 379.7 L632.8 377.4 L636.3 375.1 L628.2 371.1 L620.1 364.7 L624.7 360.7 L622.4 358.3 L601.6 357.8Z"/>
<path d="M669.8 368.8 L673.5 370.0 L666.6 378.7 L674.7 383.9 L668.9 390.2 L670.1 394.9 L679.3 398.3 L668.3 403.5 L678.2 409.3 L681.6 412.2 L675.9 419.7 L681.6 426.7 L673.5 431.3 L678.2 434.8 L682.8 438.3 L681.6 440.0 L672.7 445.7 L682.0 449.5 L684.9 448.4 L691.6 448.9 L699.6 447.1 L701.4 442.2 L687.9 436.4 L701.9 431.3 L694.4 423.2 L700.7 417.4 L697.3 412.8 L702.5 403.5 L701.3 397.8 L703.0 387.4 L703.8 391.1 L706.3 383.8 L712.4 380.1 L707.5 375.2 L713.0 370.4 L713.0 354.5 L669.8 353.1Z"/>
<path d="M625.9 406.4 L629.3 402.3 L636.3 400.6 L646.7 400.6 L650.7 406.9 L647.3 411.0 L636.3 411.6 L629.3 409.8Z"/>
<path d="M633.0 417.6 L638.0 416.2 L643.0 417.6 L638.0 418.9Z"/>
<path d="M627.6 431.2 L632.8 429.5 L638.6 431.5 L644.4 429.8 L649.9 431.2 L644.4 432.6 L638.6 431.8 L632.2 433.8Z"/>
<path d="M626.4 445.1 L630.5 442.2 L639.7 439.9 L647.8 442.8 L653.6 445.3 L647.8 448.0 L636.3 449.2 L629.9 448.0Z"/>
<path d="M635.1 455.5 L638.4 454.1 L641.5 455.5 L638.4 456.9Z"/>
<path d="M622.8 470.0 L632.1 470.0 L630.9 471.0 L624.1 471.0Z"/>
<path d="M623.5 469.4 L628.2 468.3 L632.8 469.4 L628.2 470.8Z"/>
<path d="M625.3 483.9 L630.9 480.9 L642.1 479.9 L649.5 481.8 L654.7 484.3 L648.3 486.1 L633.4 486.4Z"/>
<path d="M626.9 498.3 L632.1 494.2 L637.7 492.3 L643.3 494.2 L649.5 498.5 L642.1 499.8 L632.1 499.8Z"/>
<path d="M629.4 521.8 L632.8 520.2 L636.1 521.8 L632.8 523.3Z"/>
<path d="M628.7 536.3 L632.8 534.5 L636.9 536.3 L632.8 537.8Z"/>
<path d="M677.3 459.6 L680.0 455.6 L687.3 453.8 L695.9 454.4 L696.5 456.9 L689.8 459.9 L680.0 461.1Z"/>
<path d="M675.8 470.5 L682.4 468.2 L689.5 470.3 L694.3 469.2 L701.4 470.1 L696.6 471.7 L689.5 471.2 L683.6 472.9Z"/>
<path d="M680.0 478.7 L685.0 476.8 L694.9 479.9 L702.3 483.6 L697.4 486.7 L685.0 488.0 L680.0 487.4 L672.4 483.9Z"/>
<path d="M680.0 492.9 L685.0 491.1 L693.6 492.9 L694.9 496.7 L691.2 499.8 L680.0 501.0 L673.1 498.5Z"/>
<path d="M681.9 507.8 L684.7 506.2 L687.7 507.8 L684.7 509.4Z"/>
<path d="M674.9 521.8 L680.0 520.6 L686.8 520.6 L688.4 522.1 L680.0 523.6Z"/>
<path d="M694.6 521.8 L698.0 520.4 L700.8 521.8 L698.0 523.3Z"/>
<path d="M719.7 494.8 L722.2 492.3 L733.3 489.8 L744.5 490.5 L749.5 498.5 L743.3 503.5 L734.6 502.5 L727.1 499.8 L721.6 497.9Z"/>
<path d="M719.4 507.8 L729.6 505.3 L734.6 503.5 L743.3 504.1 L745.1 507.2 L739.5 510.9 L729.6 511.6 L723.4 510.3Z"/>
<path d="M725.9 522.1 L729.6 519.6 L742.0 519.4 L747.6 521.5 L739.5 524.0 L729.6 524.6Z"/>
<path d="M726.1 536.4 L730.2 533.9 L734.6 536.4 L730.2 537.8Z"/>
<path d="M754.2 498.8 L756.9 498.0 L759.6 498.5 L756.9 499.3Z"/>
<path d="M530.6 369.9 L533.8 367.0 L537.0 369.9 L533.8 372.8Z"/>
<path d="M530.6 407.8 L533.8 404.9 L537.0 407.8 L533.8 410.7Z"/>
<path d="M768.3 352.0 L769.9 342.2 L773.9 340.4 L773.9 366.7 L770.5 365.5Z"/>
<path d="M772.0 379.5 L773.9 377.7 L773.9 381.4Z"/>
<path d="M622.0 332.0 L774.0 332.0 L774.0 335.2 L700.0 335.6 L640.0 335.0 L622.0 333.5Z"/>
</g><g fill="#3458ac">
<path d="M596.4 354.9 L600.4 352.6 L616.6 350.8 L622.4 347.4 L640.9 345.0 L645.5 342.1 L657.1 341.6 L664.0 345.0 L671.0 343.3 L680.0 339.8 L688.6 344.1 L698.3 340.4 L708.1 341.6 L715.5 342.2 L721.6 339.2 L728.9 339.8 L737.5 342.2 L743.6 339.8 L752.2 340.4 L759.5 345.9 L763.2 353.2 L761.9 361.8 L764.4 370.4 L758.3 376.5 L760.7 383.8 L755.8 391.1 L758.3 400.0 L747.9 407.3 L750.9 413.5 L747.3 422.0 L753.4 431.8 L747.3 436.7 L750.9 443.4 L757.7 445.9 L746.7 450.1 L746.0 461.1 L748.5 470.0 L747.0 472.5 L744.5 477.4 L749.5 482.4 L758.8 484.6 L747.0 486.1 L739.5 488.4 L733.3 488.6 L725.9 486.7 L720.3 483.6 L729.0 477.4 L727.1 473.7 L719.7 470.0 L731.4 466.7 L728.9 464.8 L719.1 455.6 L728.9 450.1 L727.1 448.3 L719.1 441.0 L726.5 435.5 L722.2 431.2 L725.2 422.6 L717.3 417.1 L725.2 411.0 L717.9 402.4 L719.1 400.0 L721.6 387.5 L716.7 378.9 L722.2 375.2 L713.0 370.4 L669.8 368.8 L664.0 369.9 L655.9 374.5 L654.8 378.6 L649.0 385.5 L650.2 390.2 L657.7 393.6 L654.8 395.9 L640.9 398.3 L631.6 397.1 L628.2 394.2 L634.5 390.2 L638.0 386.7 L636.3 382.6 L623.5 379.7 L632.8 377.4 L636.3 375.1 L628.2 371.1 L620.1 364.7 L624.7 360.7 L622.4 358.3 L601.6 357.8Z"/>
<path d="M669.8 368.8 L673.5 370.0 L666.6 378.7 L674.7 383.9 L668.9 390.2 L670.1 394.9 L679.3 398.3 L668.3 403.5 L678.2 409.3 L681.6 412.2 L675.9 419.7 L681.6 426.7 L673.5 431.3 L678.2 434.8 L682.8 438.3 L681.6 440.0 L672.7 445.7 L682.0 449.5 L684.9 448.4 L691.6 448.9 L699.6 447.1 L701.4 442.2 L687.9 436.4 L701.9 431.3 L694.4 423.2 L700.7 417.4 L697.3 412.8 L702.5 403.5 L701.3 397.8 L703.0 387.4 L703.8 391.1 L706.3 383.8 L712.4 380.1 L707.5 375.2 L713.0 370.4 L713.0 354.5 L669.8 353.1Z"/>
<path d="M625.9 406.4 L629.3 402.3 L636.3 400.6 L646.7 400.6 L650.7 406.9 L647.3 411.0 L636.3 411.6 L629.3 409.8Z"/>
<path d="M633.0 417.6 L638.0 416.2 L643.0 417.6 L638.0 418.9Z"/>
<path d="M627.6 431.2 L632.8 429.5 L638.6 431.5 L644.4 429.8 L649.9 431.2 L644.4 432.6 L638.6 431.8 L632.2 433.8Z"/>
<path d="M626.4 445.1 L630.5 442.2 L639.7 439.9 L647.8 442.8 L653.6 445.3 L647.8 448.0 L636.3 449.2 L629.9 448.0Z"/>
<path d="M635.1 455.5 L638.4 454.1 L641.5 455.5 L638.4 456.9Z"/>
<path d="M622.8 470.0 L632.1 470.0 L630.9 471.0 L624.1 471.0Z"/>
<path d="M623.5 469.4 L628.2 468.3 L632.8 469.4 L628.2 470.8Z"/>
<path d="M625.3 483.9 L630.9 480.9 L642.1 479.9 L649.5 481.8 L654.7 484.3 L648.3 486.1 L633.4 486.4Z"/>
<path d="M626.9 498.3 L632.1 494.2 L637.7 492.3 L643.3 494.2 L649.5 498.5 L642.1 499.8 L632.1 499.8Z"/>
<path d="M629.4 521.8 L632.8 520.2 L636.1 521.8 L632.8 523.3Z"/>
<path d="M628.7 536.3 L632.8 534.5 L636.9 536.3 L632.8 537.8Z"/>
<path d="M677.3 459.6 L680.0 455.6 L687.3 453.8 L695.9 454.4 L696.5 456.9 L689.8 459.9 L680.0 461.1Z"/>
<path d="M675.8 470.5 L682.4 468.2 L689.5 470.3 L694.3 469.2 L701.4 470.1 L696.6 471.7 L689.5 471.2 L683.6 472.9Z"/>
<path d="M680.0 478.7 L685.0 476.8 L694.9 479.9 L702.3 483.6 L697.4 486.7 L685.0 488.0 L680.0 487.4 L672.4 483.9Z"/>
<path d="M680.0 492.9 L685.0 491.1 L693.6 492.9 L694.9 496.7 L691.2 499.8 L680.0 501.0 L673.1 498.5Z"/>
<path d="M681.9 507.8 L684.7 506.2 L687.7 507.8 L684.7 509.4Z"/>
<path d="M674.9 521.8 L680.0 520.6 L686.8 520.6 L688.4 522.1 L680.0 523.6Z"/>
<path d="M694.6 521.8 L698.0 520.4 L700.8 521.8 L698.0 523.3Z"/>
<path d="M719.7 494.8 L722.2 492.3 L733.3 489.8 L744.5 490.5 L749.5 498.5 L743.3 503.5 L734.6 502.5 L727.1 499.8 L721.6 497.9Z"/>
<path d="M719.4 507.8 L729.6 505.3 L734.6 503.5 L743.3 504.1 L745.1 507.2 L739.5 510.9 L729.6 511.6 L723.4 510.3Z"/>
<path d="M725.9 522.1 L729.6 519.6 L742.0 519.4 L747.6 521.5 L739.5 524.0 L729.6 524.6Z"/>
<path d="M726.1 536.4 L730.2 533.9 L734.6 536.4 L730.2 537.8Z"/>
<path d="M754.2 498.8 L756.9 498.0 L759.6 498.5 L756.9 499.3Z"/>
<path d="M530.6 369.9 L533.8 367.0 L537.0 369.9 L533.8 372.8Z"/>
<path d="M530.6 407.8 L533.8 404.9 L537.0 407.8 L533.8 410.7Z"/>
<path d="M768.3 352.0 L769.9 342.2 L773.9 340.4 L773.9 366.7 L770.5 365.5Z"/>
<path d="M772.0 379.5 L773.9 377.7 L773.9 381.4Z"/>
<path d="M622.0 332.0 L774.0 332.0 L774.0 335.2 L700.0 335.6 L640.0 335.0 L622.0 333.5Z"/>
</g>
<g fill="#2873bc" stroke="#1c1c3c" stroke-width="0.7" stroke-linejoin="round">
<path d="M627.0 354.9 L630.5 352.0 L645.5 349.7 L653.6 347.4 L661.7 349.1 L671.0 348.5 L680.0 347.4 L692.2 348.3 L699.0 343.5 L710.6 345.3 L716.7 347.1 L721.6 344.7 L728.9 342.2 L737.5 346.5 L743.6 343.5 L748.5 347.1 L755.8 352.0 L759.5 360.6 L755.8 366.7 L758.3 372.8 L753.4 378.9 L754.6 386.3 L752.2 393.6 L753.4 400.0 L746.7 406.1 L743.6 411.0 L728.9 411.6 L722.8 406.1 L722.2 400.0 L725.2 391.1 L726.5 387.5 L721.6 378.9 L726.5 374.6 L713.0 366.1 L703.2 374.6 L707.5 380.1 L701.4 383.8 L700.2 392.0 L696.7 394.9 L686.3 396.6 L679.9 394.9 L675.9 393.1 L684.0 389.1 L683.4 383.9 L675.9 379.8 L674.7 373.5 L673.3 370.5 L668.7 364.7 L676.8 360.7 L668.7 357.2 L658.3 360.7 L657.1 364.7 L646.7 372.2 L636.3 371.6 L634.0 369.3 L640.9 364.7 L645.5 360.1 L631.6 358.3Z"/>
<path d="M677.0 407.6 L682.8 403.5 L690.9 402.4 L693.8 404.7 L692.6 409.3 L686.3 410.3 L679.3 409.3Z"/>
<path d="M682.4 403.7 L691.0 402.4 L693.5 405.5 L691.6 409.2 L682.4 409.8Z"/>
<path d="M680.0 444.0 L684.9 442.2 L691.0 445.2 L685.5 447.7Z"/>
<path d="M721.0 417.1 L728.9 414.1 L743.6 414.7 L744.2 418.3 L736.9 423.2 L728.9 420.8Z"/>
<path d="M725.9 431.8 L730.1 428.7 L738.7 428.7 L744.2 431.2 L738.7 434.2 L728.9 434.5Z"/>
<path d="M725.9 444.6 L728.9 441.0 L737.5 439.1 L742.4 441.6 L741.1 445.9 L733.8 448.3 L728.9 447.7Z"/>
<path d="M726.5 483.6 L730.9 481.4 L738.3 481.4 L741.8 483.4 L738.3 485.5 L729.6 485.8Z"/>
<path d="M680.0 483.9 L683.7 482.0 L687.4 483.9 L683.7 485.8Z"/>
<path d="M769.9 352.0 L771.1 344.1 L773.9 342.2 L773.9 364.2 L771.5 363.0Z"/>
<path d="M660.0 332.6 L774.0 332.6 L774.0 334.6 L700.0 334.8Z"/>
<path d="M676.2 407.5 L680.0 405.8 L680.0 409.3Z"/>
</g><g fill="#2873bc">
<path d="M627.0 354.9 L630.5 352.0 L645.5 349.7 L653.6 347.4 L661.7 349.1 L671.0 348.5 L680.0 347.4 L692.2 348.3 L699.0 343.5 L710.6 345.3 L716.7 347.1 L721.6 344.7 L728.9 342.2 L737.5 346.5 L743.6 343.5 L748.5 347.1 L755.8 352.0 L759.5 360.6 L755.8 366.7 L758.3 372.8 L753.4 378.9 L754.6 386.3 L752.2 393.6 L753.4 400.0 L746.7 406.1 L743.6 411.0 L728.9 411.6 L722.8 406.1 L722.2 400.0 L725.2 391.1 L726.5 387.5 L721.6 378.9 L726.5 374.6 L713.0 366.1 L703.2 374.6 L707.5 380.1 L701.4 383.8 L700.2 392.0 L696.7 394.9 L686.3 396.6 L679.9 394.9 L675.9 393.1 L684.0 389.1 L683.4 383.9 L675.9 379.8 L674.7 373.5 L673.3 370.5 L668.7 364.7 L676.8 360.7 L668.7 357.2 L658.3 360.7 L657.1 364.7 L646.7 372.2 L636.3 371.6 L634.0 369.3 L640.9 364.7 L645.5 360.1 L631.6 358.3Z"/>
<path d="M677.0 407.6 L682.8 403.5 L690.9 402.4 L693.8 404.7 L692.6 409.3 L686.3 410.3 L679.3 409.3Z"/>
<path d="M682.4 403.7 L691.0 402.4 L693.5 405.5 L691.6 409.2 L682.4 409.8Z"/>
<path d="M680.0 444.0 L684.9 442.2 L691.0 445.2 L685.5 447.7Z"/>
<path d="M721.0 417.1 L728.9 414.1 L743.6 414.7 L744.2 418.3 L736.9 423.2 L728.9 420.8Z"/>
<path d="M725.9 431.8 L730.1 428.7 L738.7 428.7 L744.2 431.2 L738.7 434.2 L728.9 434.5Z"/>
<path d="M725.9 444.6 L728.9 441.0 L737.5 439.1 L742.4 441.6 L741.1 445.9 L733.8 448.3 L728.9 447.7Z"/>
<path d="M726.5 483.6 L730.9 481.4 L738.3 481.4 L741.8 483.4 L738.3 485.5 L729.6 485.8Z"/>
<path d="M680.0 483.9 L683.7 482.0 L687.4 483.9 L683.7 485.8Z"/>
<path d="M769.9 352.0 L771.1 344.1 L773.9 342.2 L773.9 364.2 L771.5 363.0Z"/>
<path d="M660.0 332.6 L774.0 332.6 L774.0 334.6 L700.0 334.8Z"/>
<path d="M676.2 407.5 L680.0 405.8 L680.0 409.3Z"/>
</g>
<g fill="#2588c5" stroke="#1c1c3c" stroke-width="0.7" stroke-linejoin="round">
<path d="M632.2 355.5 L638.6 353.7 L652.5 352.6 L655.9 353.1 L658.3 354.9 L654.2 357.8 L650.2 358.3 L642.1 356.8 L635.1 356.4Z"/>
<path d="M680.0 352.6 L698.3 348.3 L706.3 350.2 L714.2 349.0 L721.6 348.3 L728.9 345.9 L737.5 349.6 L743.6 347.1 L748.5 350.8 L752.2 356.3 L749.7 361.8 L753.4 366.7 L750.9 372.8 L748.5 378.9 L741.1 383.8 L731.4 378.9 L736.3 375.2 L728.9 372.2 L720.4 365.5 L716.7 360.6 L711.8 358.7 L706.9 363.0 L702.0 366.7 L694.7 371.6 L687.3 372.2 L680.0 372.8 L676.8 369.9 L680.0 368.2 L692.2 366.7 L694.1 362.4 L691.0 360.0 L680.0 359.4 L677.9 356.8 L675.6 354.9 L680.0 353.7Z"/>
<path d="M728.9 393.6 L733.8 389.9 L743.6 386.9 L744.8 391.1 L741.1 394.8 L731.4 396.0Z"/>
<path d="M727.1 407.3 L730.1 404.9 L736.3 404.6 L738.7 407.3 L735.6 409.5 L729.5 409.2Z"/>
<path d="M728.3 445.2 L731.4 443.4 L735.0 445.0 L732.0 446.7Z"/>
<path d="M681.8 445.0 L684.9 443.8 L687.9 445.2 L684.9 446.5Z"/>
<path d="M771.7 352.0 L772.6 345.9 L773.9 344.7 L773.9 360.6 L772.6 359.4Z"/>
</g><g fill="#2588c5">
<path d="M632.2 355.5 L638.6 353.7 L652.5 352.6 L655.9 353.1 L658.3 354.9 L654.2 357.8 L650.2 358.3 L642.1 356.8 L635.1 356.4Z"/>
<path d="M680.0 352.6 L698.3 348.3 L706.3 350.2 L714.2 349.0 L721.6 348.3 L728.9 345.9 L737.5 349.6 L743.6 347.1 L748.5 350.8 L752.2 356.3 L749.7 361.8 L753.4 366.7 L750.9 372.8 L748.5 378.9 L741.1 383.8 L731.4 378.9 L736.3 375.2 L728.9 372.2 L720.4 365.5 L716.7 360.6 L711.8 358.7 L706.9 363.0 L702.0 366.7 L694.7 371.6 L687.3 372.2 L680.0 372.8 L676.8 369.9 L680.0 368.2 L692.2 366.7 L694.1 362.4 L691.0 360.0 L680.0 359.4 L677.9 356.8 L675.6 354.9 L680.0 353.7Z"/>
<path d="M728.9 393.6 L733.8 389.9 L743.6 386.9 L744.8 391.1 L741.1 394.8 L731.4 396.0Z"/>
<path d="M727.1 407.3 L730.1 404.9 L736.3 404.6 L738.7 407.3 L735.6 409.5 L729.5 409.2Z"/>
<path d="M728.3 445.2 L731.4 443.4 L735.0 445.0 L732.0 446.7Z"/>
<path d="M681.8 445.0 L684.9 443.8 L687.9 445.2 L684.9 446.5Z"/>
<path d="M771.7 352.0 L772.6 345.9 L773.9 344.7 L773.9 360.6 L772.6 359.4Z"/>
</g>
<g fill="#2873bc" stroke="#1c1c3c" stroke-width="0.7" stroke-linejoin="round">
<path d="M727.7 360.6 L738.7 360.6 L736.3 364.9 L731.4 365.5Z"/>
</g><g fill="#2873bc">
<path d="M727.7 360.6 L738.7 360.6 L736.3 364.9 L731.4 365.5Z"/>
</g>
<g fill="#27a5bf" stroke="#1c1c3c" stroke-width="0.7" stroke-linejoin="round">
<path d="M636.3 354.8 L644.4 354.1 L652.5 354.5 L644.4 355.7Z"/>
<path d="M681.2 356.3 L687.3 354.5 L704.5 352.6 L706.9 354.5 L705.7 357.5 L698.3 358.7 L687.3 358.1Z"/>
<path d="M725.9 355.7 L728.9 353.2 L743.6 353.2 L746.7 355.7 L743.6 357.9 L728.9 357.9Z"/>
<path d="M728.3 369.7 L731.4 367.7 L743.6 367.7 L745.4 369.7 L743.0 372.2 L731.4 372.2Z"/>
<path d="M718.2 351.4 L720.4 349.9 L722.6 351.4 L720.4 352.9Z"/>
<path d="M683.1 369.7 L689.8 368.9 L690.4 371.0 L683.7 371.6Z"/>
</g><g fill="#27a5bf">
<path d="M636.3 354.8 L644.4 354.1 L652.5 354.5 L644.4 355.7Z"/>
<path d="M681.2 356.3 L687.3 354.5 L704.5 352.6 L706.9 354.5 L705.7 357.5 L698.3 358.7 L687.3 358.1Z"/>
<path d="M725.9 355.7 L728.9 353.2 L743.6 353.2 L746.7 355.7 L743.6 357.9 L728.9 357.9Z"/>
<path d="M728.3 369.7 L731.4 367.7 L743.6 367.7 L745.4 369.7 L743.0 372.2 L731.4 372.2Z"/>
<path d="M718.2 351.4 L720.4 349.9 L722.6 351.4 L720.4 352.9Z"/>
<path d="M683.1 369.7 L689.8 368.9 L690.4 371.0 L683.7 371.6Z"/>
</g>
<path d="M728.9 355.7 L736.3 354.8 L743.6 355.7 L736.3 356.5 Z" fill="#3a6a3a"/>
<path d="M732.0 369.9 L736.6 369.1 L741.1 369.9 L736.6 370.6 Z" fill="#3a6a3a"/>
<path d="M684.3 370.1 L686.7 369.5 L689.2 370.1 L686.7 370.7 Z" fill="#2a5a4a"/>
<path d="M683.7 393.6 L684.9 393.1 L686.1 393.6 L684.9 394.1 Z" fill="#101828"/>
<path d="M623.5 417.4 L626.2 416.9 L628.8 417.4 L626.2 417.8 Z" fill="#15203a"/>
<path d="M631.1 445.7 L633.4 445.0 L635.7 445.7 L633.4 446.4 Z" fill="#2a4a8a"/>
<path d="M683.4 393.5 L684.7 392.9 L685.9 393.5 L684.7 394.1 Z" fill="#101828"/>
<path d="M712.4 360.6 L713.6 359.6 L714.9 360.6 L713.6 361.6 Z" fill="#4a3a9a"/>
<path d="M720.8 365.5 L721.6 364.9 L722.3 365.5 L721.6 366.1 Z" fill="#2a2a6a"/>
<path d="M734.4 455.3 L736.3 454.5 L738.1 455.3 L736.3 456.0 Z" fill="#2a5aa0"/>
<path d="M753.4 445.9 L755.8 445.5 L758.3 445.9 L755.8 446.2 Z" fill="#1a2a5a"/>
<path d="M768.2 332 L774 332 L774 336.5 Z" fill="#0c0c10"/>
<circle cx="621.5" cy="398.0" r="0.7" fill="#22225a"/>
<circle cx="622.8" cy="355.0" r="0.7" fill="#22225a"/>
<circle cx="533.8" cy="355.5" r="0.7" fill="#22225a"/>
<circle cx="533.8" cy="393.5" r="0.7" fill="#22225a"/>
<circle cx="596.0" cy="484.0" r="0.7" fill="#22225a"/>
<circle cx="624.0" cy="507.5" r="0.7" fill="#22225a"/>
</g>
<rect x="443.5" y="332" width="330.5" height="209.2" fill="none" stroke="#3a3560" stroke-width="0.6"/>
<line x1="452.40" x2="452.40" y1="541.2" y2="538.7" stroke="#2a2a50" stroke-width="0.5"/>
<text class="t" x="452.40" y="553.60" text-anchor="middle">0</text>
<line x1="506.00" x2="506.00" y1="541.2" y2="538.7" stroke="#2a2a50" stroke-width="0.5"/>
<text class="t" x="506.00" y="553.60" text-anchor="middle">1000</text>
<line x1="559.60" x2="559.60" y1="541.2" y2="538.7" stroke="#2a2a50" stroke-width="0.5"/>
<text class="t" x="559.60" y="553.60" text-anchor="middle">2000</text>
<line x1="613.20" x2="613.20" y1="541.2" y2="538.7" stroke="#2a2a50" stroke-width="0.5"/>
<text class="t" x="613.20" y="553.60" text-anchor="middle">3000</text>
<line x1="666.80" x2="666.80" y1="541.2" y2="538.7" stroke="#2a2a50" stroke-width="0.5"/>
<text class="t" x="666.80" y="553.60" text-anchor="middle">4000</text>
<line x1="720.40" x2="720.40" y1="541.2" y2="538.7" stroke="#2a2a50" stroke-width="0.5"/>
<text class="t" x="720.40" y="553.60" text-anchor="middle">5000</text>
<line x1="774.00" x2="774.00" y1="541.2" y2="538.7" stroke="#2a2a50" stroke-width="0.5"/>
<text class="t" x="774.00" y="553.60" text-anchor="middle">6000</text>
<line x1="443.5" x2="446" y1="541.20" y2="541.20" stroke="#2a2a50" stroke-width="0.5"/>
<text class="t" x="440.50" y="544.80" text-anchor="end">0</text>
<line x1="443.5" x2="446" y1="517.50" y2="517.50" stroke="#2a2a50" stroke-width="0.5"/>
<text class="t" x="440.50" y="521.10" text-anchor="end">1000</text>
<line x1="443.5" x2="446" y1="493.80" y2="493.80" stroke="#2a2a50" stroke-width="0.5"/>
<text class="t" x="440.50" y="497.40" text-anchor="end">2000</text>
<line x1="443.5" x2="446" y1="470.10" y2="470.10" stroke="#2a2a50" stroke-width="0.5"/>
<text class="t" x="440.50" y="473.70" text-anchor="end">3000</text>
<line x1="443.5" x2="446" y1="446.40" y2="446.40" stroke="#2a2a50" stroke-width="0.5"/>
<text class="t" x="440.50" y="450.00" text-anchor="end">4000</text>
<line x1="443.5" x2="446" y1="422.70" y2="422.70" stroke="#2a2a50" stroke-width="0.5"/>
<text class="t" x="440.50" y="426.30" text-anchor="end">5000</text>
<line x1="443.5" x2="446" y1="399.00" y2="399.00" stroke="#2a2a50" stroke-width="0.5"/>
<text class="t" x="440.50" y="402.60" text-anchor="end">6000</text>
<line x1="443.5" x2="446" y1="375.30" y2="375.30" stroke="#2a2a50" stroke-width="0.5"/>
<text class="t" x="440.50" y="378.90" text-anchor="end">7000</text>
<line x1="443.5" x2="446" y1="351.60" y2="351.60" stroke="#2a2a50" stroke-width="0.5"/>
<text class="t" x="440.50" y="355.20" text-anchor="end">8000</text>
<text class="ti" x="608.75" y="326.70" text-anchor="middle">Inverted susceptibilty</text>
<text class="ax" x="608.75" y="568.70" text-anchor="middle"><tspan font-style="italic">X</tspan>, m</text>
<text class="ax" transform="translate(411.70 445.60) rotate(-90)" text-anchor="middle"><tspan font-style="italic">Y</tspan>, m</text>
<text class="lb" x="400" y="329.9">(d)</text>
<rect x="443.5" y="575" width="330.5" height="15" fill="url(#pg)" stroke="#555" stroke-width="0.6"/>
<text class="t" x="443.50" y="601.60" text-anchor="middle">0</text>
<line x1="476.55" x2="476.55" y1="590" y2="587.5" stroke="#333" stroke-width="0.5"/>
<text class="t" x="476.55" y="601.60" text-anchor="middle">0.1</text>
<line x1="509.60" x2="509.60" y1="590" y2="587.5" stroke="#333" stroke-width="0.5"/>
<text class="t" x="509.60" y="601.60" text-anchor="middle">0.2</text>
<line x1="542.65" x2="542.65" y1="590" y2="587.5" stroke="#333" stroke-width="0.5"/>
<text class="t" x="542.65" y="601.60" text-anchor="middle">0.3</text>
<line x1="575.70" x2="575.70" y1="590" y2="587.5" stroke="#333" stroke-width="0.5"/>
<text class="t" x="575.70" y="601.60" text-anchor="middle">0.4</text>
<line x1="608.75" x2="608.75" y1="590" y2="587.5" stroke="#333" stroke-width="0.5"/>
<text class="t" x="608.75" y="601.60" text-anchor="middle">0.5</text>
<line x1="641.80" x2="641.80" y1="590" y2="587.5" stroke="#333" stroke-width="0.5"/>
<text class="t" x="641.80" y="601.60" text-anchor="middle">0.6</text>
<line x1="674.85" x2="674.85" y1="590" y2="587.5" stroke="#333" stroke-width="0.5"/>
<text class="t" x="674.85" y="601.60" text-anchor="middle">0.7</text>
<line x1="707.90" x2="707.90" y1="590" y2="587.5" stroke="#333" stroke-width="0.5"/>
<text class="t" x="707.90" y="601.60" text-anchor="middle">0.8</text>
<line x1="740.95" x2="740.95" y1="590" y2="587.5" stroke="#333" stroke-width="0.5"/>
<text class="t" x="740.95" y="601.60" text-anchor="middle">0.9</text>
<text class="t" x="774.00" y="601.60" text-anchor="middle">1.0</text>
</g>
</svg></body></html>
